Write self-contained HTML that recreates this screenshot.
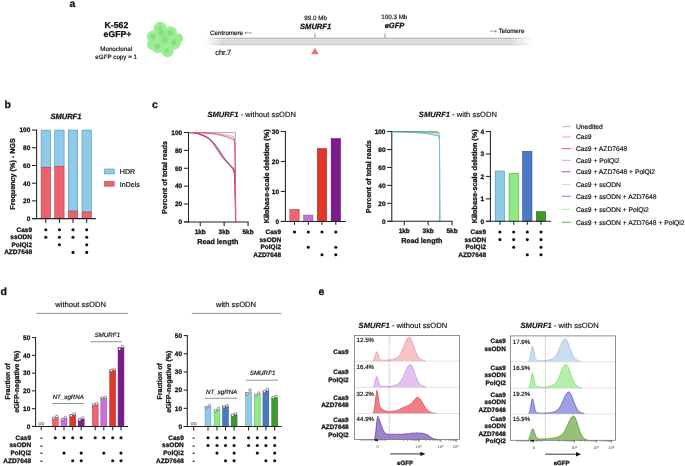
<!DOCTYPE html>
<html lang="en"><head><meta charset="utf-8"><title>Figure</title>
<style>html,body{margin:0;padding:0;background:#fff;}body{width:685px;height:466px;overflow:hidden;}svg{display:block;}</style></head>
<body>
<svg width="685" height="466" viewBox="0 0 685 466" font-family='"Liberation Sans", Arial, Helvetica, sans-serif' text-rendering="geometricPrecision">
<text x="69.40" y="6.70" font-size="10.5" font-weight="bold" font-style="normal" text-anchor="start" fill="#111" stroke="#111" stroke-width="0.26">a</text>
<text x="116.40" y="27.60" font-size="8.7" font-weight="bold" font-style="normal" text-anchor="middle" fill="#111" stroke="#111" stroke-width="0.26">K-562</text>
<text x="117.50" y="37.20" font-size="8.7" font-weight="bold" font-style="normal" text-anchor="middle" fill="#111" stroke="#111" stroke-width="0.26">eGFP+</text>
<text x="116.20" y="51.20" font-size="6.25" font-weight="normal" font-style="normal" text-anchor="middle" fill="#111" stroke="#111" stroke-width="0.18">Monoclonal</text>
<text x="116.20" y="58.60" font-size="6.25" font-weight="normal" font-style="normal" text-anchor="middle" fill="#111" stroke="#111" stroke-width="0.18">eGFP copy = 1</text>
<defs><filter id="bl" x="-10%" y="-10%" width="120%" height="120%"><feGaussianBlur stdDeviation="0.35"/></filter></defs><g filter="url(#bl)">
<circle cx="160.2" cy="28.3" r="6.6" fill="#a2ee9b" stroke="none"/>
<circle cx="152.9" cy="36.6" r="6.0" fill="#a2ee9b" stroke="none"/>
<circle cx="170.4" cy="32.6" r="6.4" fill="#a2ee9b" stroke="none"/>
<circle cx="178.0" cy="38.4" r="5.2" fill="#a2ee9b" stroke="none"/>
<circle cx="152.6" cy="44.4" r="5.6" fill="#a2ee9b" stroke="none"/>
<circle cx="157.8" cy="46.6" r="6.4" fill="#a2ee9b" stroke="none"/>
<circle cx="167.4" cy="51.0" r="6.2" fill="#a2ee9b" stroke="none"/>
<circle cx="174.0" cy="43.0" r="6.6" fill="#a2ee9b" stroke="none"/>
<circle cx="161.8" cy="33.4" r="6.2" fill="#a2ee9b" stroke="none"/>
<circle cx="164.8" cy="39.8" r="6.6" fill="#a2ee9b" stroke="none"/>
<circle cx="160.2" cy="28.3" r="6.3" fill="#92e88c" fill-opacity="0.4" stroke="#b0f2a8" stroke-opacity="0.8" stroke-width="0.5"/>
<circle cx="152.9" cy="36.6" r="5.7" fill="#92e88c" fill-opacity="0.4" stroke="#b0f2a8" stroke-opacity="0.8" stroke-width="0.5"/>
<circle cx="170.4" cy="32.6" r="6.1000000000000005" fill="#92e88c" fill-opacity="0.4" stroke="#b0f2a8" stroke-opacity="0.8" stroke-width="0.5"/>
<circle cx="178.0" cy="38.4" r="4.9" fill="#92e88c" fill-opacity="0.4" stroke="#b0f2a8" stroke-opacity="0.8" stroke-width="0.5"/>
<circle cx="152.6" cy="44.4" r="5.3" fill="#92e88c" fill-opacity="0.4" stroke="#b0f2a8" stroke-opacity="0.8" stroke-width="0.5"/>
<circle cx="157.8" cy="46.6" r="6.1000000000000005" fill="#92e88c" fill-opacity="0.4" stroke="#b0f2a8" stroke-opacity="0.8" stroke-width="0.5"/>
<circle cx="167.4" cy="51.0" r="5.9" fill="#92e88c" fill-opacity="0.4" stroke="#b0f2a8" stroke-opacity="0.8" stroke-width="0.5"/>
<circle cx="174.0" cy="43.0" r="6.3" fill="#92e88c" fill-opacity="0.4" stroke="#b0f2a8" stroke-opacity="0.8" stroke-width="0.5"/>
<circle cx="161.8" cy="33.4" r="5.9" fill="#92e88c" fill-opacity="0.4" stroke="#b0f2a8" stroke-opacity="0.8" stroke-width="0.5"/>
<circle cx="164.8" cy="39.8" r="6.3" fill="#92e88c" fill-opacity="0.4" stroke="#b0f2a8" stroke-opacity="0.8" stroke-width="0.5"/>
<circle cx="152.8" cy="36.7" r="2.6" fill="#74d06e" fill-opacity="0.55"/>
<circle cx="161.7" cy="33.0" r="2.7" fill="#74d06e" fill-opacity="0.55"/>
<circle cx="170.2" cy="33.0" r="2.7" fill="#74d06e" fill-opacity="0.55"/>
<circle cx="164.7" cy="39.8" r="2.9" fill="#74d06e" fill-opacity="0.55"/>
<circle cx="173.8" cy="42.4" r="2.7" fill="#74d06e" fill-opacity="0.55"/>
<circle cx="157.6" cy="46.3" r="2.7" fill="#74d06e" fill-opacity="0.55"/>
<circle cx="160.0" cy="28.0" r="2.2" fill="#74d06e" fill-opacity="0.55"/>
<circle cx="167.0" cy="50.6" r="2.3" fill="#74d06e" fill-opacity="0.55"/>
</g>
<defs><linearGradient id="barh" x1="0" x2="1" y1="0" y2="0"><stop offset="0" stop-color="#fff" stop-opacity="1"/><stop offset="0.05" stop-color="#fff" stop-opacity="0"/><stop offset="0.93" stop-color="#fff" stop-opacity="0"/><stop offset="1" stop-color="#fff" stop-opacity="1"/></linearGradient><linearGradient id="barv" x1="0" x2="0" y1="0" y2="1"><stop offset="0" stop-color="#a6a6a6"/><stop offset="0.11" stop-color="#b4b4b4"/><stop offset="0.16" stop-color="#d6d6d6"/><stop offset="0.8" stop-color="#dedede"/><stop offset="0.86" stop-color="#cdcdcd"/><stop offset="1" stop-color="#d4d4d4"/></linearGradient></defs>
<rect x="206.00" y="38.40" width="326.00" height="6.60" fill="#dcdcdc" stroke="none" stroke-width="0.5"/>
<line x1="206.00" y1="38.25" x2="532.00" y2="38.25" stroke="#a0a0a0" stroke-width="0.9"/>
<line x1="206.00" y1="39.50" x2="532.00" y2="39.50" stroke="#e4e4e4" stroke-width="0.9"/>
<line x1="206.00" y1="44.75" x2="532.00" y2="44.75" stroke="#c2c2c2" stroke-width="0.8"/>
<rect x="205.50" y="36.80" width="327.00" height="8.90" fill="url(#barh)" stroke="none" stroke-width="0.5"/>
<text x="210.10" y="35.00" font-size="6.25" font-weight="normal" font-style="normal" text-anchor="start" fill="#111" stroke="#111" stroke-width="0.18">Centromere</text>
<line x1="252.00" y1="32.90" x2="245.00" y2="32.90" stroke="#333" stroke-width="0.45"/>
<path d="M246.50 31.77 L245.00 32.90 L246.50 34.02" fill="none" stroke="#333" stroke-width="0.45"/>
<text x="215.20" y="54.50" font-size="7.4" font-weight="normal" font-style="normal" text-anchor="start" fill="#111" stroke="#111" stroke-width="0.18">chr.7</text>
<text x="315.60" y="19.80" font-size="6.25" font-weight="normal" font-style="normal" text-anchor="middle" fill="#111" stroke="#111" stroke-width="0.18">99.0 Mb</text>
<text x="315.60" y="28.60" font-size="7.55" font-weight="bold" font-style="italic" text-anchor="middle" fill="#111" stroke="#111" stroke-width="0.26">SMURF1</text>
<line x1="314.90" y1="33.30" x2="314.90" y2="37.90" stroke="#444" stroke-width="0.55"/>
<path d="M314.9 47.8 L318.7 54.3 L311.1 54.3 Z" fill="#e9737c"/>
<text x="394.30" y="18.70" font-size="6.25" font-weight="normal" font-style="normal" text-anchor="middle" fill="#111" stroke="#111" stroke-width="0.18">100.3 Mb</text>
<text x="394.50" y="28.40" font-size="7.55" font-weight="bold" font-style="italic" text-anchor="middle" fill="#111" stroke="#111" stroke-width="0.26">eGFP</text>
<line x1="385.00" y1="33.30" x2="385.00" y2="37.90" stroke="#444" stroke-width="0.55"/>
<line x1="490.00" y1="31.20" x2="496.40" y2="31.20" stroke="#333" stroke-width="0.45"/>
<path d="M494.90 30.07 L496.40 31.20 L494.90 32.33" fill="none" stroke="#333" stroke-width="0.45"/>
<text x="498.70" y="33.00" font-size="6.25" font-weight="normal" font-style="normal" text-anchor="start" fill="#111" stroke="#111" stroke-width="0.18">Telomere</text>
<text x="4.60" y="108.00" font-size="10.5" font-weight="bold" font-style="normal" text-anchor="start" fill="#111" stroke="#111" stroke-width="0.26">b</text>
<text x="65.90" y="119.30" font-size="7.55" font-weight="bold" font-style="italic" text-anchor="middle" fill="#111" stroke="#111" stroke-width="0.26">SMURF1</text>
<rect x="41.10" y="130.10" width="9.40" height="37.17" fill="#8fcbe8" stroke="#4f8db2" stroke-width="0.6"/>
<rect x="41.10" y="167.27" width="9.40" height="51.33" fill="#ea636c" stroke="#b8424e" stroke-width="0.6"/>
<rect x="54.70" y="130.10" width="9.40" height="36.29" fill="#8fcbe8" stroke="#4f8db2" stroke-width="0.6"/>
<rect x="54.70" y="166.38" width="9.40" height="52.22" fill="#ea636c" stroke="#b8424e" stroke-width="0.6"/>
<rect x="68.30" y="130.10" width="9.40" height="80.98" fill="#8fcbe8" stroke="#4f8db2" stroke-width="0.6"/>
<rect x="68.30" y="211.08" width="9.40" height="7.52" fill="#ea636c" stroke="#b8424e" stroke-width="0.6"/>
<rect x="82.00" y="130.10" width="9.40" height="81.86" fill="#8fcbe8" stroke="#4f8db2" stroke-width="0.6"/>
<rect x="82.00" y="211.96" width="9.40" height="6.64" fill="#ea636c" stroke="#b8424e" stroke-width="0.6"/>
<line x1="36.60" y1="129.57" x2="36.60" y2="219.12" stroke="#222" stroke-width="1.05"/>
<line x1="32.00" y1="218.60" x2="36.60" y2="218.60" stroke="#222" stroke-width="1.05"/>
<text x="30.30" y="220.95" font-size="6.5" font-weight="bold" font-style="normal" text-anchor="end" fill="#111" stroke="#111" stroke-width="0.26">0</text>
<line x1="32.00" y1="200.90" x2="36.60" y2="200.90" stroke="#222" stroke-width="1.05"/>
<text x="30.30" y="203.25" font-size="6.5" font-weight="bold" font-style="normal" text-anchor="end" fill="#111" stroke="#111" stroke-width="0.26">20</text>
<line x1="32.00" y1="183.20" x2="36.60" y2="183.20" stroke="#222" stroke-width="1.05"/>
<text x="30.30" y="185.55" font-size="6.5" font-weight="bold" font-style="normal" text-anchor="end" fill="#111" stroke="#111" stroke-width="0.26">40</text>
<line x1="32.00" y1="165.50" x2="36.60" y2="165.50" stroke="#222" stroke-width="1.05"/>
<text x="30.30" y="167.85" font-size="6.5" font-weight="bold" font-style="normal" text-anchor="end" fill="#111" stroke="#111" stroke-width="0.26">60</text>
<line x1="32.00" y1="147.80" x2="36.60" y2="147.80" stroke="#222" stroke-width="1.05"/>
<text x="30.30" y="150.15" font-size="6.5" font-weight="bold" font-style="normal" text-anchor="end" fill="#111" stroke="#111" stroke-width="0.26">80</text>
<line x1="32.00" y1="130.10" x2="36.60" y2="130.10" stroke="#222" stroke-width="1.05"/>
<text x="30.30" y="132.45" font-size="6.5" font-weight="bold" font-style="normal" text-anchor="end" fill="#111" stroke="#111" stroke-width="0.26">100</text>
<line x1="32.30" y1="218.60" x2="95.80" y2="218.60" stroke="#222" stroke-width="1.05"/>
<line x1="45.80" y1="218.60" x2="45.80" y2="222.90" stroke="#222" stroke-width="1.05"/>
<line x1="59.40" y1="218.60" x2="59.40" y2="222.90" stroke="#222" stroke-width="1.05"/>
<line x1="73.00" y1="218.60" x2="73.00" y2="222.90" stroke="#222" stroke-width="1.05"/>
<line x1="86.70" y1="218.60" x2="86.70" y2="222.90" stroke="#222" stroke-width="1.05"/>
<text x="14.70" y="174.00" font-size="7.2" font-weight="bold" font-style="normal" text-anchor="middle" fill="#111" transform="rotate(-90 14.70 174.00)" stroke="#111" stroke-width="0.26">Frequency (%) - NGS</text>
<text x="32.00" y="231.70" font-size="6.5" font-weight="bold" font-style="normal" text-anchor="end" fill="#111" stroke="#111" stroke-width="0.26">Cas9</text>
<text x="32.00" y="239.20" font-size="6.5" font-weight="bold" font-style="normal" text-anchor="end" fill="#111" stroke="#111" stroke-width="0.26">ssODN</text>
<text x="32.00" y="246.70" font-size="6.5" font-weight="bold" font-style="normal" text-anchor="end" fill="#111" stroke="#111" stroke-width="0.26">PolQi2</text>
<text x="32.00" y="254.30" font-size="6.5" font-weight="bold" font-style="normal" text-anchor="end" fill="#111" stroke="#111" stroke-width="0.26">AZD7648</text>
<circle cx="45.80" cy="229.80" r="1.55" fill="#111" stroke="none" stroke-width="0.4"/>
<circle cx="59.40" cy="229.80" r="1.55" fill="#111" stroke="none" stroke-width="0.4"/>
<circle cx="73.00" cy="229.80" r="1.55" fill="#111" stroke="none" stroke-width="0.4"/>
<circle cx="86.70" cy="229.80" r="1.55" fill="#111" stroke="none" stroke-width="0.4"/>
<circle cx="45.80" cy="237.30" r="1.55" fill="#111" stroke="none" stroke-width="0.4"/>
<circle cx="59.40" cy="237.30" r="1.55" fill="#111" stroke="none" stroke-width="0.4"/>
<circle cx="73.00" cy="237.30" r="1.55" fill="#111" stroke="none" stroke-width="0.4"/>
<circle cx="86.70" cy="237.30" r="1.55" fill="#111" stroke="none" stroke-width="0.4"/>
<circle cx="59.40" cy="244.80" r="1.55" fill="#111" stroke="none" stroke-width="0.4"/>
<circle cx="86.70" cy="244.80" r="1.55" fill="#111" stroke="none" stroke-width="0.4"/>
<circle cx="73.00" cy="252.40" r="1.55" fill="#111" stroke="none" stroke-width="0.4"/>
<circle cx="86.70" cy="252.40" r="1.55" fill="#111" stroke="none" stroke-width="0.4"/>
<rect x="104.30" y="169.00" width="10.00" height="5.00" fill="#8fcbe8" stroke="#4f8db2" stroke-width="0.5"/>
<rect x="104.30" y="181.20" width="10.00" height="5.00" fill="#ea636c" stroke="#b8424e" stroke-width="0.5"/>
<text x="119.80" y="174.00" font-size="7.1" font-weight="normal" font-style="normal" text-anchor="start" fill="#111" stroke="#111" stroke-width="0.18">HDR</text>
<text x="119.80" y="186.50" font-size="7.1" font-weight="normal" font-style="normal" text-anchor="start" fill="#111" stroke="#111" stroke-width="0.18">InDels</text>
<text x="152.10" y="108.30" font-size="10.5" font-weight="bold" font-style="normal" text-anchor="start" fill="#111" stroke="#111" stroke-width="0.26">c</text>
<text x="251.7" y="117.3" font-size="7.6" text-anchor="middle" stroke="#111" stroke-width="0.16" fill="#111"><tspan font-weight="bold" font-style="italic">SMURF1</tspan> - without ssODN</text>
<text x="457.9" y="117.3" font-size="7.6" text-anchor="middle" stroke="#111" stroke-width="0.16" fill="#111"><tspan font-weight="bold" font-style="italic">SMURF1</tspan> - with ssODN</text>
<path d="M188.30 132.50 L234.91 132.50 L235.38 132.50 L235.50 221.90" fill="none" stroke="#8c8c9c" stroke-width="0.7" stroke-linejoin="round"/>
<path d="M188.30 132.50 L188.70 132.53 L189.20 132.56 L189.78 132.59 L190.42 132.62 L191.13 132.66 L191.89 132.70 L192.67 132.76 L193.48 132.84 L194.29 132.94 L195.10 133.06 L195.90 133.21 L196.67 133.39 L197.43 133.61 L198.24 133.87 L199.07 134.15 L199.92 134.46 L200.78 134.79 L201.63 135.13 L202.48 135.49 L203.30 135.86 L204.10 136.23 L204.86 136.60 L205.57 136.97 L206.23 137.33 L206.82 137.68 L207.36 138.02 L207.86 138.35 L208.33 138.69 L208.76 139.03 L209.18 139.38 L209.57 139.74 L209.96 140.12 L210.36 140.52 L210.75 140.94 L211.17 141.40 L211.60 141.89 L212.05 142.42 L212.51 143.00 L212.97 143.61 L213.44 144.26 L213.90 144.93 L214.37 145.61 L214.82 146.29 L215.28 146.97 L215.72 147.64 L216.15 148.29 L216.57 148.91 L216.98 149.49 L217.37 150.04 L217.75 150.57 L218.12 151.09 L218.48 151.59 L218.84 152.08 L219.18 152.56 L219.52 153.03 L219.86 153.49 L220.19 153.95 L220.51 154.40 L220.84 154.85 L221.16 155.30 L221.47 155.73 L221.76 156.14 L222.03 156.54 L222.29 156.92 L222.55 157.30 L222.81 157.67 L223.07 158.05 L223.35 158.44 L223.66 158.85 L223.98 159.28 L224.35 159.73 L224.75 160.21 L225.20 160.74 L225.72 161.32 L226.27 161.94 L226.86 162.58 L227.47 163.24 L228.09 163.90 L228.71 164.56 L229.31 165.20 L229.88 165.81 L230.42 166.38 L230.90 166.90 L231.32 167.37 L231.69 167.78 L232.02 168.16 L232.32 168.50 L232.59 168.82 L232.83 169.11 L233.05 169.38 L233.24 169.62 L233.41 169.83 L233.57 170.03 L233.71 170.20 L233.83 170.36 L233.95 170.50 L234.31 172.73 L234.79 176.75 L235.02 184.80 L235.38 203.91 L235.50 221.90" fill="none" stroke="#7d1d8d" stroke-width="0.7" stroke-linejoin="round"/>
<path d="M188.30 132.50 L188.70 132.53 L189.20 132.54 L189.78 132.56 L190.42 132.58 L191.13 132.60 L191.89 132.63 L192.67 132.68 L193.48 132.74 L194.29 132.82 L195.10 132.92 L195.90 133.05 L196.67 133.22 L197.43 133.41 L198.24 133.64 L199.07 133.89 L199.92 134.17 L200.78 134.47 L201.63 134.79 L202.48 135.11 L203.30 135.45 L204.10 135.79 L204.86 136.13 L205.57 136.46 L206.23 136.79 L206.82 137.11 L207.36 137.42 L207.86 137.73 L208.33 138.04 L208.76 138.35 L209.18 138.67 L209.57 139.00 L209.96 139.35 L210.36 139.72 L210.75 140.11 L211.17 140.54 L211.60 140.99 L212.05 141.48 L212.51 142.01 L212.97 142.56 L213.44 143.14 L213.90 143.74 L214.37 144.36 L214.82 144.98 L215.28 145.62 L215.72 146.26 L216.15 146.89 L216.57 147.52 L216.98 148.15 L217.37 148.78 L217.75 149.43 L218.12 150.11 L218.48 150.79 L218.84 151.48 L219.18 152.17 L219.52 152.84 L219.86 153.49 L220.19 154.12 L220.51 154.71 L220.84 155.25 L221.16 155.74 L221.47 156.17 L221.76 156.53 L222.03 156.84 L222.29 157.10 L222.55 157.34 L222.81 157.56 L223.07 157.78 L223.35 158.01 L223.66 158.27 L223.98 158.56 L224.35 158.91 L224.75 159.32 L225.20 159.81 L225.72 160.36 L226.27 160.97 L226.86 161.62 L227.47 162.30 L228.09 162.98 L228.71 163.66 L229.31 164.32 L229.88 164.95 L230.42 165.52 L230.90 166.04 L231.32 166.47 L231.69 166.84 L232.02 167.15 L232.32 167.43 L232.59 167.66 L232.83 167.86 L233.05 168.04 L233.24 168.18 L233.41 168.31 L233.57 168.42 L233.71 168.52 L233.83 168.61 L233.95 168.71 L234.31 170.94 L234.79 174.97 L235.02 183.01 L235.38 203.28 L235.50 221.90" fill="none" stroke="#5a48c0" stroke-width="0.7" stroke-linejoin="round"/>
<path d="M188.30 132.50 L188.70 132.53 L189.20 132.55 L189.78 132.58 L190.42 132.60 L191.13 132.63 L191.89 132.67 L192.67 132.73 L193.48 132.79 L194.29 132.88 L195.10 133.00 L195.90 133.13 L196.67 133.30 L197.43 133.51 L198.24 133.75 L199.07 134.02 L199.92 134.31 L200.78 134.62 L201.63 134.95 L202.48 135.29 L203.30 135.64 L204.10 135.98 L204.86 136.32 L205.57 136.65 L206.23 136.97 L206.82 137.27 L207.36 137.56 L207.86 137.84 L208.33 138.11 L208.76 138.39 L209.18 138.67 L209.57 138.96 L209.96 139.26 L210.36 139.59 L210.75 139.94 L211.17 140.31 L211.60 140.72 L212.05 141.17 L212.51 141.66 L212.97 142.18 L213.44 142.72 L213.90 143.28 L214.37 143.86 L214.82 144.44 L215.28 145.03 L215.72 145.60 L216.15 146.17 L216.57 146.72 L216.98 147.25 L217.37 147.76 L217.75 148.26 L218.12 148.75 L218.48 149.24 L218.84 149.72 L219.18 150.20 L219.52 150.68 L219.86 151.15 L220.19 151.63 L220.51 152.10 L220.84 152.58 L221.16 153.06 L221.47 153.54 L221.76 154.00 L222.03 154.46 L222.29 154.92 L222.55 155.37 L222.81 155.83 L223.07 156.29 L223.35 156.77 L223.66 157.26 L223.98 157.78 L224.35 158.31 L224.75 158.87 L225.20 159.48 L225.72 160.12 L226.27 160.80 L226.86 161.51 L227.47 162.23 L228.09 162.95 L228.71 163.68 L229.31 164.39 L229.88 165.08 L230.42 165.73 L230.90 166.35 L231.32 166.92 L231.69 167.45 L232.02 167.98 L232.32 168.48 L232.59 168.97 L232.83 169.44 L233.05 169.88 L233.24 170.29 L233.41 170.68 L233.57 171.03 L233.71 171.34 L233.83 171.61 L233.95 171.84 L234.43 174.07 L234.91 178.09 L235.14 186.14 L235.50 204.38 L235.62 221.90" fill="none" stroke="#c02050" stroke-width="0.7" stroke-linejoin="round"/>
<path d="M188.30 132.50 L188.70 132.53 L189.20 132.55 L189.78 132.57 L190.42 132.59 L191.13 132.61 L191.89 132.65 L192.67 132.69 L193.48 132.75 L194.29 132.83 L195.10 132.93 L195.90 133.06 L196.67 133.22 L197.43 133.40 L198.24 133.62 L199.07 133.87 L199.92 134.14 L200.78 134.42 L201.63 134.72 L202.48 135.04 L203.30 135.35 L204.10 135.68 L204.86 135.99 L205.57 136.31 L206.23 136.61 L206.82 136.90 L207.36 137.19 L207.86 137.46 L208.33 137.74 L208.76 138.02 L209.18 138.30 L209.57 138.59 L209.96 138.90 L210.36 139.23 L210.75 139.58 L211.17 139.96 L211.60 140.37 L212.05 140.81 L212.51 141.28 L212.97 141.78 L213.44 142.30 L213.90 142.85 L214.37 143.40 L214.82 143.97 L215.28 144.54 L215.72 145.11 L216.15 145.68 L216.57 146.25 L216.98 146.80 L217.37 147.36 L217.75 147.93 L218.12 148.50 L218.48 149.09 L218.84 149.67 L219.18 150.25 L219.52 150.83 L219.86 151.40 L220.19 151.95 L220.51 152.49 L220.84 153.01 L221.16 153.51 L221.47 153.97 L221.76 154.40 L222.03 154.80 L222.29 155.18 L222.55 155.55 L222.81 155.91 L223.07 156.28 L223.35 156.65 L223.66 157.05 L223.98 157.47 L224.35 157.93 L224.75 158.43 L225.20 158.98 L225.72 159.60 L226.27 160.26 L226.86 160.96 L227.47 161.67 L228.09 162.39 L228.71 163.10 L229.31 163.79 L229.88 164.44 L230.42 165.04 L230.90 165.57 L231.32 166.03 L231.69 166.41 L232.02 166.73 L232.32 167.01 L232.59 167.25 L232.83 167.45 L233.05 167.62 L233.24 167.76 L233.41 167.88 L233.57 167.98 L233.71 168.08 L233.83 168.17 L233.95 168.26 L234.43 170.50 L234.91 174.52 L235.14 182.56 L235.50 203.13 L235.62 221.90" fill="none" stroke="#e2352b" stroke-width="0.7" stroke-linejoin="round"/>
<path d="M188.30 132.50 L189.19 132.52 L190.32 132.53 L191.66 132.55 L193.17 132.57 L194.80 132.60 L196.52 132.62 L198.27 132.65 L200.03 132.69 L201.74 132.72 L203.38 132.76 L204.88 132.81 L206.23 132.86 L207.44 132.91 L208.60 132.97 L209.72 133.04 L210.78 133.10 L211.81 133.17 L212.80 133.25 L213.75 133.33 L214.68 133.41 L215.58 133.49 L216.46 133.58 L217.32 133.66 L218.18 133.75 L219.00 133.84 L219.79 133.93 L220.54 134.03 L221.26 134.13 L221.96 134.23 L222.64 134.33 L223.30 134.43 L223.96 134.54 L224.60 134.65 L225.24 134.76 L225.89 134.88 L226.54 135.00 L227.21 135.13 L227.92 135.28 L228.63 135.44 L229.35 135.60 L230.07 135.77 L230.77 135.93 L231.44 136.09 L232.06 136.24 L232.64 136.39 L233.15 136.51 L233.59 136.62 L233.95 136.70 L234.31 139.20 L234.79 143.23 L235.02 151.27 L235.38 192.17 L235.50 221.90" fill="none" stroke="#c670da" stroke-width="0.7" stroke-linejoin="round"/>
<path d="M188.30 132.50 L189.19 132.53 L190.32 132.57 L191.66 132.61 L193.17 132.65 L194.80 132.70 L196.52 132.76 L198.27 132.82 L200.03 132.88 L201.74 132.96 L203.38 133.04 L204.88 133.12 L206.23 133.22 L207.44 133.32 L208.60 133.43 L209.72 133.54 L210.78 133.67 L211.81 133.80 L212.80 133.93 L213.75 134.07 L214.68 134.22 L215.58 134.36 L216.46 134.51 L217.32 134.67 L218.18 134.82 L219.00 134.98 L219.79 135.14 L220.54 135.30 L221.26 135.46 L221.96 135.63 L222.64 135.80 L223.30 135.98 L223.96 136.16 L224.60 136.35 L225.24 136.55 L225.89 136.76 L226.54 136.97 L227.21 137.21 L227.92 137.47 L228.63 137.76 L229.35 138.06 L230.07 138.36 L230.77 138.67 L231.44 138.97 L232.06 139.25 L232.64 139.51 L233.15 139.75 L233.59 139.94 L233.95 140.10 L234.43 142.78 L234.91 146.80 L235.14 154.85 L235.50 193.43 L235.62 221.90" fill="none" stroke="#e8404a" stroke-width="0.7" stroke-linejoin="round"/>
<path d="M188.30 132.50 L189.19 132.52 L190.32 132.55 L191.66 132.58 L193.17 132.61 L194.80 132.64 L196.52 132.68 L198.27 132.73 L200.03 132.78 L201.74 132.83 L203.38 132.89 L204.88 132.96 L206.23 133.04 L207.44 133.12 L208.60 133.21 L209.72 133.30 L210.78 133.40 L211.81 133.51 L212.80 133.62 L213.75 133.74 L214.68 133.86 L215.58 133.99 L216.46 134.11 L217.32 134.24 L218.18 134.38 L219.00 134.51 L219.79 134.65 L220.54 134.79 L221.26 134.94 L221.96 135.09 L222.64 135.24 L223.30 135.40 L223.96 135.56 L224.60 135.73 L225.24 135.90 L225.89 136.07 L226.54 136.25 L227.21 136.45 L227.92 136.66 L228.63 136.90 L229.35 137.14 L230.07 137.38 L230.77 137.62 L231.44 137.86 L232.06 138.09 L232.64 138.29 L233.15 138.48 L233.59 138.64 L233.95 138.76 L234.55 140.99 L235.02 145.02 L235.26 153.06 L235.62 192.80 L235.74 221.90" fill="none" stroke="#ec6570" stroke-width="0.7" stroke-linejoin="round"/>
<line x1="188.50" y1="131.97" x2="188.50" y2="222.43" stroke="#222" stroke-width="1.05"/>
<line x1="183.90" y1="221.90" x2="188.50" y2="221.90" stroke="#222" stroke-width="1.05"/>
<text x="182.20" y="224.25" font-size="6.5" font-weight="bold" font-style="normal" text-anchor="end" fill="#111" stroke="#111" stroke-width="0.26">0</text>
<line x1="183.90" y1="204.02" x2="188.50" y2="204.02" stroke="#222" stroke-width="1.05"/>
<text x="182.20" y="206.37" font-size="6.5" font-weight="bold" font-style="normal" text-anchor="end" fill="#111" stroke="#111" stroke-width="0.26">20</text>
<line x1="183.90" y1="186.14" x2="188.50" y2="186.14" stroke="#222" stroke-width="1.05"/>
<text x="182.20" y="188.49" font-size="6.5" font-weight="bold" font-style="normal" text-anchor="end" fill="#111" stroke="#111" stroke-width="0.26">40</text>
<line x1="183.90" y1="168.26" x2="188.50" y2="168.26" stroke="#222" stroke-width="1.05"/>
<text x="182.20" y="170.61" font-size="6.5" font-weight="bold" font-style="normal" text-anchor="end" fill="#111" stroke="#111" stroke-width="0.26">60</text>
<line x1="183.90" y1="150.38" x2="188.50" y2="150.38" stroke="#222" stroke-width="1.05"/>
<text x="182.20" y="152.73" font-size="6.5" font-weight="bold" font-style="normal" text-anchor="end" fill="#111" stroke="#111" stroke-width="0.26">80</text>
<line x1="183.90" y1="132.50" x2="188.50" y2="132.50" stroke="#222" stroke-width="1.05"/>
<text x="182.20" y="134.85" font-size="6.5" font-weight="bold" font-style="normal" text-anchor="end" fill="#111" stroke="#111" stroke-width="0.26">100</text>
<line x1="184.20" y1="221.90" x2="248.58" y2="221.90" stroke="#222" stroke-width="1.05"/>
<line x1="200.25" y1="221.90" x2="200.25" y2="225.90" stroke="#222" stroke-width="1.05"/>
<text x="200.25" y="233.60" font-size="6.5" font-weight="bold" font-style="normal" text-anchor="middle" fill="#111" stroke="#111" stroke-width="0.26">1kb</text>
<line x1="224.15" y1="221.90" x2="224.15" y2="225.90" stroke="#222" stroke-width="1.05"/>
<text x="224.15" y="233.60" font-size="6.5" font-weight="bold" font-style="normal" text-anchor="middle" fill="#111" stroke="#111" stroke-width="0.26">3kb</text>
<line x1="248.05" y1="221.90" x2="248.05" y2="225.90" stroke="#222" stroke-width="1.05"/>
<text x="248.05" y="233.60" font-size="6.5" font-weight="bold" font-style="normal" text-anchor="middle" fill="#111" stroke="#111" stroke-width="0.26">5kb</text>
<text x="217.88" y="244.00" font-size="7.2" font-weight="bold" font-style="normal" text-anchor="middle" fill="#111" stroke="#111" stroke-width="0.26">Read length</text>
<text x="166.80" y="177.50" font-size="7.15" font-weight="bold" font-style="normal" text-anchor="middle" fill="#111" transform="rotate(-90 166.80 177.50)" stroke="#111" stroke-width="0.26">Percent of total reads</text>
<path d="M392.30 131.60 L393.70 131.61 L395.58 131.63 L397.81 131.65 L400.29 131.68 L402.89 131.70 L405.49 131.73 L407.98 131.76 L410.23 131.78 L412.30 131.80 L414.34 131.82 L416.35 131.84 L418.32 131.86 L420.25 131.88 L422.13 131.90 L423.97 131.93 L425.76 131.96 L427.57 132.00 L429.43 132.04 L431.28 132.10 L433.06 132.15 L434.73 132.20 L436.22 132.25 L437.47 132.29 L438.43 132.32 L439.14 133.84 L439.50 137.88 L439.74 221.30" fill="none" stroke="#3c9a2a" stroke-width="0.7" stroke-linejoin="round"/>
<path d="M392.30 131.60 L393.70 131.63 L395.58 131.66 L397.81 131.70 L400.29 131.75 L402.89 131.80 L405.49 131.85 L407.98 131.90 L410.23 131.96 L412.30 132.02 L414.34 132.07 L416.35 132.13 L418.32 132.19 L420.25 132.26 L422.13 132.33 L423.97 132.41 L425.76 132.50 L427.57 132.60 L429.43 132.72 L431.28 132.85 L433.06 132.98 L434.73 133.11 L436.22 133.22 L437.47 133.32 L438.43 133.39 L439.14 134.74 L439.50 138.78 L439.74 221.30" fill="none" stroke="#8fea86" stroke-width="0.7" stroke-linejoin="round"/>
<path d="M392.30 131.60 L393.70 131.64 L395.58 131.70 L397.81 131.76 L400.29 131.83 L402.89 131.91 L405.49 132.01 L407.98 132.11 L410.23 132.23 L412.30 132.36 L414.34 132.49 L416.35 132.64 L418.32 132.80 L420.25 132.97 L422.13 133.16 L423.97 133.36 L425.76 133.57 L427.57 133.83 L429.43 134.12 L431.28 134.45 L433.06 134.78 L434.73 135.10 L436.22 135.39 L437.47 135.64 L438.43 135.82 L439.14 137.43 L439.50 141.47 L439.74 221.30" fill="none" stroke="#4b78c5" stroke-width="0.7" stroke-linejoin="round"/>
<path d="M392.30 131.60 L393.70 131.63 L395.58 131.67 L397.81 131.71 L400.29 131.76 L402.89 131.81 L405.49 131.88 L407.98 131.96 L410.23 132.05 L412.30 132.15 L414.34 132.26 L416.35 132.37 L418.32 132.50 L420.25 132.64 L422.13 132.79 L423.97 132.95 L425.76 133.12 L427.57 133.33 L429.43 133.56 L431.28 133.82 L433.06 134.09 L434.73 134.35 L436.22 134.58 L437.47 134.78 L438.43 134.92 L439.14 136.53 L439.50 140.57 L439.74 221.30" fill="none" stroke="#8dcbe6" stroke-width="0.7" stroke-linejoin="round"/>
<path d="M392.30 131.60 L393.70 131.61 L395.58 131.61 L397.81 131.62 L400.29 131.63 L402.89 131.65 L405.49 131.66 L407.98 131.67 L410.23 131.69 L412.30 131.71 L414.34 131.73 L416.35 131.75 L418.32 131.77 L420.25 131.79 L422.13 131.82 L423.97 131.84 L425.76 131.87 L427.57 131.90 L429.43 131.94 L431.28 131.98 L433.06 132.01 L434.73 132.05 L436.22 132.09 L437.47 132.12 L438.43 132.14" fill="none" stroke="#2f8a2a" stroke-width="0.7" stroke-linejoin="round"/>
<line x1="391.80" y1="131.07" x2="391.80" y2="221.83" stroke="#222" stroke-width="1.05"/>
<line x1="387.20" y1="221.30" x2="391.80" y2="221.30" stroke="#222" stroke-width="1.05"/>
<text x="385.50" y="223.65" font-size="6.5" font-weight="bold" font-style="normal" text-anchor="end" fill="#111" stroke="#111" stroke-width="0.26">0</text>
<line x1="387.20" y1="203.36" x2="391.80" y2="203.36" stroke="#222" stroke-width="1.05"/>
<text x="385.50" y="205.71" font-size="6.5" font-weight="bold" font-style="normal" text-anchor="end" fill="#111" stroke="#111" stroke-width="0.26">20</text>
<line x1="387.20" y1="185.42" x2="391.80" y2="185.42" stroke="#222" stroke-width="1.05"/>
<text x="385.50" y="187.77" font-size="6.5" font-weight="bold" font-style="normal" text-anchor="end" fill="#111" stroke="#111" stroke-width="0.26">40</text>
<line x1="387.20" y1="167.48" x2="391.80" y2="167.48" stroke="#222" stroke-width="1.05"/>
<text x="385.50" y="169.83" font-size="6.5" font-weight="bold" font-style="normal" text-anchor="end" fill="#111" stroke="#111" stroke-width="0.26">60</text>
<line x1="387.20" y1="149.54" x2="391.80" y2="149.54" stroke="#222" stroke-width="1.05"/>
<text x="385.50" y="151.89" font-size="6.5" font-weight="bold" font-style="normal" text-anchor="end" fill="#111" stroke="#111" stroke-width="0.26">80</text>
<line x1="387.20" y1="131.60" x2="391.80" y2="131.60" stroke="#222" stroke-width="1.05"/>
<text x="385.50" y="133.95" font-size="6.5" font-weight="bold" font-style="normal" text-anchor="end" fill="#111" stroke="#111" stroke-width="0.26">100</text>
<line x1="387.50" y1="221.30" x2="452.57" y2="221.30" stroke="#222" stroke-width="1.05"/>
<line x1="404.25" y1="221.30" x2="404.25" y2="225.30" stroke="#222" stroke-width="1.05"/>
<text x="404.25" y="233.00" font-size="6.5" font-weight="bold" font-style="normal" text-anchor="middle" fill="#111" stroke="#111" stroke-width="0.26">1kb</text>
<line x1="428.15" y1="221.30" x2="428.15" y2="225.30" stroke="#222" stroke-width="1.05"/>
<text x="428.15" y="233.00" font-size="6.5" font-weight="bold" font-style="normal" text-anchor="middle" fill="#111" stroke="#111" stroke-width="0.26">3kb</text>
<line x1="452.05" y1="221.30" x2="452.05" y2="225.30" stroke="#222" stroke-width="1.05"/>
<text x="452.05" y="233.00" font-size="6.5" font-weight="bold" font-style="normal" text-anchor="middle" fill="#111" stroke="#111" stroke-width="0.26">5kb</text>
<text x="421.88" y="243.40" font-size="7.2" font-weight="bold" font-style="normal" text-anchor="middle" fill="#111" stroke="#111" stroke-width="0.26">Read length</text>
<text x="371.30" y="176.75" font-size="7.15" font-weight="bold" font-style="normal" text-anchor="middle" fill="#111" transform="rotate(-90 371.30 176.75)" stroke="#111" stroke-width="0.26">Percent of total reads</text>
<rect x="289.85" y="209.41" width="9.30" height="11.99" fill="#ec6570" stroke="#c0444f" stroke-width="0.6"/>
<rect x="303.65" y="215.11" width="9.30" height="6.29" fill="#c670da" stroke="#9c4ab4" stroke-width="0.6"/>
<rect x="317.35" y="148.58" width="9.30" height="72.82" fill="#e2352b" stroke="#b0221c" stroke-width="0.6"/>
<rect x="331.15" y="138.69" width="9.30" height="82.71" fill="#7d1d8d" stroke="#581064" stroke-width="0.6"/>
<line x1="285.40" y1="130.97" x2="285.40" y2="221.93" stroke="#222" stroke-width="1.05"/>
<line x1="280.80" y1="221.40" x2="285.40" y2="221.40" stroke="#222" stroke-width="1.05"/>
<text x="279.10" y="223.75" font-size="6.5" font-weight="bold" font-style="normal" text-anchor="end" fill="#111" stroke="#111" stroke-width="0.26">0</text>
<line x1="280.80" y1="191.43" x2="285.40" y2="191.43" stroke="#222" stroke-width="1.05"/>
<text x="279.10" y="193.78" font-size="6.5" font-weight="bold" font-style="normal" text-anchor="end" fill="#111" stroke="#111" stroke-width="0.26">10</text>
<line x1="280.80" y1="161.47" x2="285.40" y2="161.47" stroke="#222" stroke-width="1.05"/>
<text x="279.10" y="163.82" font-size="6.5" font-weight="bold" font-style="normal" text-anchor="end" fill="#111" stroke="#111" stroke-width="0.26">20</text>
<line x1="280.80" y1="131.50" x2="285.40" y2="131.50" stroke="#222" stroke-width="1.05"/>
<text x="279.10" y="133.85" font-size="6.5" font-weight="bold" font-style="normal" text-anchor="end" fill="#111" stroke="#111" stroke-width="0.26">30</text>
<line x1="281.10" y1="221.40" x2="345.80" y2="221.40" stroke="#222" stroke-width="1.05"/>
<line x1="294.50" y1="221.40" x2="294.50" y2="224.80" stroke="#222" stroke-width="1.05"/>
<line x1="308.30" y1="221.40" x2="308.30" y2="224.80" stroke="#222" stroke-width="1.05"/>
<line x1="322.00" y1="221.40" x2="322.00" y2="224.80" stroke="#222" stroke-width="1.05"/>
<line x1="335.80" y1="221.40" x2="335.80" y2="224.80" stroke="#222" stroke-width="1.05"/>
<text x="268.90" y="176.35" font-size="7.25" font-weight="bold" font-style="normal" text-anchor="middle" fill="#111" transform="rotate(-90 268.90 176.35)" stroke="#111" stroke-width="0.26">Kilobase-scale deletion (%)</text>
<text x="281.10" y="233.90" font-size="6.5" font-weight="bold" font-style="normal" text-anchor="end" fill="#111" stroke="#111" stroke-width="0.26">Cas9</text>
<text x="281.10" y="241.50" font-size="6.5" font-weight="bold" font-style="normal" text-anchor="end" fill="#111" stroke="#111" stroke-width="0.26">ssODN</text>
<text x="281.10" y="249.10" font-size="6.5" font-weight="bold" font-style="normal" text-anchor="end" fill="#111" stroke="#111" stroke-width="0.26">PolQi2</text>
<text x="281.10" y="256.70" font-size="6.5" font-weight="bold" font-style="normal" text-anchor="end" fill="#111" stroke="#111" stroke-width="0.26">AZD7648</text>
<circle cx="294.50" cy="232.00" r="1.55" fill="#111" stroke="none" stroke-width="0.4"/>
<circle cx="308.30" cy="232.00" r="1.55" fill="#111" stroke="none" stroke-width="0.4"/>
<circle cx="322.00" cy="232.00" r="1.55" fill="#111" stroke="none" stroke-width="0.4"/>
<circle cx="335.80" cy="232.00" r="1.55" fill="#111" stroke="none" stroke-width="0.4"/>
<circle cx="308.30" cy="247.20" r="1.55" fill="#111" stroke="none" stroke-width="0.4"/>
<circle cx="335.80" cy="247.20" r="1.55" fill="#111" stroke="none" stroke-width="0.4"/>
<circle cx="322.00" cy="254.80" r="1.55" fill="#111" stroke="none" stroke-width="0.4"/>
<circle cx="335.80" cy="254.80" r="1.55" fill="#111" stroke="none" stroke-width="0.4"/>
<rect x="495.25" y="171.01" width="9.30" height="50.29" fill="#8dcbe6" stroke="#4f8db2" stroke-width="0.6"/>
<rect x="509.05" y="173.26" width="9.30" height="48.04" fill="#8fea86" stroke="#4caa46" stroke-width="0.6"/>
<rect x="522.65" y="151.26" width="9.30" height="70.04" fill="#4b78c5" stroke="#2f5494" stroke-width="0.6"/>
<rect x="536.35" y="211.65" width="9.30" height="9.65" fill="#3c9a2a" stroke="#25691a" stroke-width="0.6"/>
<line x1="490.40" y1="130.97" x2="490.40" y2="221.83" stroke="#222" stroke-width="1.05"/>
<line x1="485.80" y1="221.30" x2="490.40" y2="221.30" stroke="#222" stroke-width="1.05"/>
<text x="484.10" y="223.65" font-size="6.5" font-weight="bold" font-style="normal" text-anchor="end" fill="#111" stroke="#111" stroke-width="0.26">0</text>
<line x1="485.80" y1="198.85" x2="490.40" y2="198.85" stroke="#222" stroke-width="1.05"/>
<text x="484.10" y="201.20" font-size="6.5" font-weight="bold" font-style="normal" text-anchor="end" fill="#111" stroke="#111" stroke-width="0.26">1</text>
<line x1="485.80" y1="176.40" x2="490.40" y2="176.40" stroke="#222" stroke-width="1.05"/>
<text x="484.10" y="178.75" font-size="6.5" font-weight="bold" font-style="normal" text-anchor="end" fill="#111" stroke="#111" stroke-width="0.26">2</text>
<line x1="485.80" y1="153.95" x2="490.40" y2="153.95" stroke="#222" stroke-width="1.05"/>
<text x="484.10" y="156.30" font-size="6.5" font-weight="bold" font-style="normal" text-anchor="end" fill="#111" stroke="#111" stroke-width="0.26">3</text>
<line x1="485.80" y1="131.50" x2="490.40" y2="131.50" stroke="#222" stroke-width="1.05"/>
<text x="484.10" y="133.85" font-size="6.5" font-weight="bold" font-style="normal" text-anchor="end" fill="#111" stroke="#111" stroke-width="0.26">4</text>
<line x1="486.10" y1="221.30" x2="551.00" y2="221.30" stroke="#222" stroke-width="1.05"/>
<line x1="499.90" y1="221.30" x2="499.90" y2="224.70" stroke="#222" stroke-width="1.05"/>
<line x1="513.70" y1="221.30" x2="513.70" y2="224.70" stroke="#222" stroke-width="1.05"/>
<line x1="527.30" y1="221.30" x2="527.30" y2="224.70" stroke="#222" stroke-width="1.05"/>
<line x1="541.00" y1="221.30" x2="541.00" y2="224.70" stroke="#222" stroke-width="1.05"/>
<text x="477.00" y="176.30" font-size="7.25" font-weight="bold" font-style="normal" text-anchor="middle" fill="#111" transform="rotate(-90 477.00 176.30)" stroke="#111" stroke-width="0.26">Kilobase-scale deletion (%)</text>
<text x="486.10" y="233.90" font-size="6.5" font-weight="bold" font-style="normal" text-anchor="end" fill="#111" stroke="#111" stroke-width="0.26">Cas9</text>
<text x="486.10" y="241.50" font-size="6.5" font-weight="bold" font-style="normal" text-anchor="end" fill="#111" stroke="#111" stroke-width="0.26">ssODN</text>
<text x="486.10" y="249.10" font-size="6.5" font-weight="bold" font-style="normal" text-anchor="end" fill="#111" stroke="#111" stroke-width="0.26">PolQi2</text>
<text x="486.10" y="256.70" font-size="6.5" font-weight="bold" font-style="normal" text-anchor="end" fill="#111" stroke="#111" stroke-width="0.26">AZD7648</text>
<circle cx="499.90" cy="232.00" r="1.55" fill="#111" stroke="none" stroke-width="0.4"/>
<circle cx="513.70" cy="232.00" r="1.55" fill="#111" stroke="none" stroke-width="0.4"/>
<circle cx="527.30" cy="232.00" r="1.55" fill="#111" stroke="none" stroke-width="0.4"/>
<circle cx="541.00" cy="232.00" r="1.55" fill="#111" stroke="none" stroke-width="0.4"/>
<circle cx="499.90" cy="239.60" r="1.55" fill="#111" stroke="none" stroke-width="0.4"/>
<circle cx="513.70" cy="239.60" r="1.55" fill="#111" stroke="none" stroke-width="0.4"/>
<circle cx="527.30" cy="239.60" r="1.55" fill="#111" stroke="none" stroke-width="0.4"/>
<circle cx="541.00" cy="239.60" r="1.55" fill="#111" stroke="none" stroke-width="0.4"/>
<circle cx="513.70" cy="247.20" r="1.55" fill="#111" stroke="none" stroke-width="0.4"/>
<circle cx="541.00" cy="247.20" r="1.55" fill="#111" stroke="none" stroke-width="0.4"/>
<circle cx="527.30" cy="254.80" r="1.55" fill="#111" stroke="none" stroke-width="0.4"/>
<circle cx="541.00" cy="254.80" r="1.55" fill="#111" stroke="none" stroke-width="0.4"/>
<line x1="561.80" y1="126.60" x2="570.80" y2="126.60" stroke="#9aa6b4" stroke-width="0.8"/>
<text x="575.90" y="129.00" font-size="6.73" font-weight="normal" font-style="normal" text-anchor="start" fill="#111" stroke="#111" stroke-width="0.18">Unedited</text>
<line x1="561.80" y1="137.00" x2="570.80" y2="137.00" stroke="#f08a96" stroke-width="0.8"/>
<text x="575.90" y="139.40" font-size="6.73" font-weight="normal" font-style="normal" text-anchor="start" fill="#111" stroke="#111" stroke-width="0.18">Cas9</text>
<line x1="561.80" y1="148.60" x2="570.80" y2="148.60" stroke="#e2352b" stroke-width="0.8"/>
<text x="575.90" y="151.00" font-size="6.73" font-weight="normal" font-style="normal" text-anchor="start" fill="#111" stroke="#111" stroke-width="0.18">Cas9 + AZD7648</text>
<line x1="561.80" y1="160.30" x2="570.80" y2="160.30" stroke="#cc88dd" stroke-width="0.8"/>
<text x="575.90" y="162.70" font-size="6.73" font-weight="normal" font-style="normal" text-anchor="start" fill="#111" stroke="#111" stroke-width="0.18">Cas9 + PolQi2</text>
<line x1="561.80" y1="171.80" x2="570.80" y2="171.80" stroke="#8b3a9a" stroke-width="0.8"/>
<text x="575.90" y="174.20" font-size="6.73" font-weight="normal" font-style="normal" text-anchor="start" fill="#111" stroke="#111" stroke-width="0.18">Cas9 + AZD7648 + PolQi2</text>
<line x1="561.80" y1="184.60" x2="570.80" y2="184.60" stroke="#a8dce0" stroke-width="0.8"/>
<text x="575.90" y="187.00" font-size="6.73" font-weight="normal" font-style="normal" text-anchor="start" fill="#111" stroke="#111" stroke-width="0.18">Cas9 + ssODN</text>
<line x1="561.80" y1="196.30" x2="570.80" y2="196.30" stroke="#5570c8" stroke-width="0.8"/>
<text x="575.90" y="198.70" font-size="6.73" font-weight="normal" font-style="normal" text-anchor="start" fill="#111" stroke="#111" stroke-width="0.18">Cas9 + ssODN + AZD7648</text>
<line x1="561.80" y1="209.30" x2="570.80" y2="209.30" stroke="#98ec90" stroke-width="0.8"/>
<text x="575.90" y="211.70" font-size="6.73" font-weight="normal" font-style="normal" text-anchor="start" fill="#111" stroke="#111" stroke-width="0.18">Cas9 + ssODN + PolQi2</text>
<line x1="561.80" y1="222.30" x2="570.80" y2="222.30" stroke="#3c9a2a" stroke-width="0.8"/>
<text x="575.90" y="224.70" font-size="6.73" font-weight="normal" font-style="normal" text-anchor="start" fill="#111" stroke="#111" stroke-width="0.18">Cas9 + ssODN + AZD7648 + PolQi2</text>
<text x="0.60" y="294.60" font-size="10.5" font-weight="bold" font-style="normal" text-anchor="start" fill="#111" stroke="#111" stroke-width="0.26">d</text>
<text x="80.60" y="307.40" font-size="7.6" font-weight="normal" font-style="normal" text-anchor="middle" fill="#111" stroke="#111" stroke-width="0.18">without ssODN</text>
<line x1="36.50" y1="313.40" x2="128.00" y2="313.40" stroke="#666" stroke-width="0.7"/>
<rect x="52.35" y="417.52" width="5.90" height="8.88" fill="#ec6570" stroke="#a94850" stroke-width="0.5"/>
<rect x="61.05" y="418.41" width="5.90" height="7.99" fill="#c670da" stroke="#8e509c" stroke-width="0.5"/>
<rect x="69.75" y="414.86" width="5.90" height="11.54" fill="#e2352b" stroke="#a2261e" stroke-width="0.5"/>
<rect x="78.25" y="418.94" width="5.90" height="7.46" fill="#7d1d8d" stroke="#5a1465" stroke-width="0.5"/>
<rect x="92.25" y="404.20" width="5.90" height="22.20" fill="#ec6570" stroke="#a94850" stroke-width="0.5"/>
<rect x="100.85" y="397.63" width="5.90" height="28.77" fill="#c670da" stroke="#8e509c" stroke-width="0.5"/>
<rect x="109.75" y="369.92" width="5.90" height="56.48" fill="#e2352b" stroke="#a2261e" stroke-width="0.5"/>
<rect x="118.05" y="347.72" width="5.90" height="78.68" fill="#7d1d8d" stroke="#5a1465" stroke-width="0.5"/>
<circle cx="39.80" cy="423.74" r="1.3" fill="#fff" stroke="#2a2a2a" stroke-width="0.5"/>
<circle cx="42.80" cy="423.74" r="1.3" fill="#fff" stroke="#2a2a2a" stroke-width="0.5"/>
<circle cx="53.80" cy="418.23" r="1.3" fill="#fff" stroke="#2a2a2a" stroke-width="0.5"/>
<circle cx="56.80" cy="416.45" r="1.3" fill="#fff" stroke="#2a2a2a" stroke-width="0.5"/>
<circle cx="62.50" cy="419.30" r="1.3" fill="#fff" stroke="#2a2a2a" stroke-width="0.5"/>
<circle cx="65.50" cy="417.52" r="1.3" fill="#fff" stroke="#2a2a2a" stroke-width="0.5"/>
<circle cx="71.20" cy="415.74" r="1.3" fill="#fff" stroke="#2a2a2a" stroke-width="0.5"/>
<circle cx="74.20" cy="413.97" r="1.3" fill="#fff" stroke="#2a2a2a" stroke-width="0.5"/>
<circle cx="79.70" cy="419.65" r="1.3" fill="#fff" stroke="#2a2a2a" stroke-width="0.5"/>
<circle cx="82.70" cy="418.05" r="1.3" fill="#fff" stroke="#2a2a2a" stroke-width="0.5"/>
<circle cx="93.70" cy="404.56" r="1.3" fill="#fff" stroke="#2a2a2a" stroke-width="0.5"/>
<circle cx="96.70" cy="403.67" r="1.3" fill="#fff" stroke="#2a2a2a" stroke-width="0.5"/>
<circle cx="102.30" cy="397.98" r="1.3" fill="#fff" stroke="#2a2a2a" stroke-width="0.5"/>
<circle cx="105.30" cy="397.27" r="1.3" fill="#fff" stroke="#2a2a2a" stroke-width="0.5"/>
<circle cx="111.20" cy="370.46" r="1.3" fill="#fff" stroke="#2a2a2a" stroke-width="0.5"/>
<circle cx="114.20" cy="369.39" r="1.3" fill="#fff" stroke="#2a2a2a" stroke-width="0.5"/>
<circle cx="119.50" cy="348.97" r="1.3" fill="#fff" stroke="#2a2a2a" stroke-width="0.5"/>
<circle cx="122.50" cy="346.48" r="1.3" fill="#fff" stroke="#2a2a2a" stroke-width="0.5"/>
<line x1="35.60" y1="337.08" x2="35.60" y2="426.92" stroke="#222" stroke-width="1.05"/>
<line x1="32.00" y1="426.40" x2="35.60" y2="426.40" stroke="#222" stroke-width="1.05"/>
<text x="30.30" y="428.75" font-size="6.5" font-weight="bold" font-style="normal" text-anchor="end" fill="#111" stroke="#111" stroke-width="0.26">0</text>
<line x1="32.00" y1="408.64" x2="35.60" y2="408.64" stroke="#222" stroke-width="1.05"/>
<text x="30.30" y="410.99" font-size="6.5" font-weight="bold" font-style="normal" text-anchor="end" fill="#111" stroke="#111" stroke-width="0.26">10</text>
<line x1="32.00" y1="390.88" x2="35.60" y2="390.88" stroke="#222" stroke-width="1.05"/>
<text x="30.30" y="393.23" font-size="6.5" font-weight="bold" font-style="normal" text-anchor="end" fill="#111" stroke="#111" stroke-width="0.26">20</text>
<line x1="32.00" y1="373.12" x2="35.60" y2="373.12" stroke="#222" stroke-width="1.05"/>
<text x="30.30" y="375.47" font-size="6.5" font-weight="bold" font-style="normal" text-anchor="end" fill="#111" stroke="#111" stroke-width="0.26">30</text>
<line x1="32.00" y1="355.36" x2="35.60" y2="355.36" stroke="#222" stroke-width="1.05"/>
<text x="30.30" y="357.71" font-size="6.5" font-weight="bold" font-style="normal" text-anchor="end" fill="#111" stroke="#111" stroke-width="0.26">40</text>
<line x1="32.00" y1="337.60" x2="35.60" y2="337.60" stroke="#222" stroke-width="1.05"/>
<text x="30.30" y="339.95" font-size="6.5" font-weight="bold" font-style="normal" text-anchor="end" fill="#111" stroke="#111" stroke-width="0.26">50</text>
<line x1="32.00" y1="426.40" x2="128.00" y2="426.40" stroke="#222" stroke-width="1.05"/>
<line x1="41.30" y1="426.40" x2="41.30" y2="430.30" stroke="#222" stroke-width="1.05"/>
<line x1="55.30" y1="426.40" x2="55.30" y2="430.30" stroke="#222" stroke-width="1.05"/>
<line x1="64.00" y1="426.40" x2="64.00" y2="430.30" stroke="#222" stroke-width="1.05"/>
<line x1="72.70" y1="426.40" x2="72.70" y2="430.30" stroke="#222" stroke-width="1.05"/>
<line x1="81.20" y1="426.40" x2="81.20" y2="430.30" stroke="#222" stroke-width="1.05"/>
<line x1="95.20" y1="426.40" x2="95.20" y2="430.30" stroke="#222" stroke-width="1.05"/>
<line x1="103.80" y1="426.40" x2="103.80" y2="430.30" stroke="#222" stroke-width="1.05"/>
<line x1="112.70" y1="426.40" x2="112.70" y2="430.30" stroke="#222" stroke-width="1.05"/>
<line x1="121.00" y1="426.40" x2="121.00" y2="430.30" stroke="#222" stroke-width="1.05"/>
<text x="68.30" y="398.90" font-size="6.2" font-weight="normal" font-style="italic" text-anchor="middle" fill="#111" stroke="#111" stroke-width="0.18">NT_sgRNA</text>
<line x1="52.30" y1="403.50" x2="83.80" y2="403.50" stroke="#666" stroke-width="0.7"/>
<text x="107.30" y="336.90" font-size="6.25" font-weight="normal" font-style="italic" text-anchor="middle" fill="#111" stroke="#111" stroke-width="0.18">SMURF1</text>
<line x1="90.60" y1="341.70" x2="121.80" y2="341.70" stroke="#666" stroke-width="0.7"/>
<text x="9.60" y="381.30" font-size="7.05" font-weight="bold" font-style="normal" text-anchor="middle" fill="#111" transform="rotate(-90 9.60 381.30)" stroke="#111" stroke-width="0.26">Fraction of</text>
<text x="18.70" y="381.70" font-size="7.05" font-weight="bold" font-style="normal" text-anchor="middle" fill="#111" transform="rotate(-90 18.70 381.70)" stroke="#111" stroke-width="0.26">eGFP-negative (%)</text>
<text x="31.10" y="439.70" font-size="6.5" font-weight="bold" font-style="normal" text-anchor="end" fill="#111" stroke="#111" stroke-width="0.26">Cas9</text>
<text x="31.10" y="447.40" font-size="6.5" font-weight="bold" font-style="normal" text-anchor="end" fill="#111" stroke="#111" stroke-width="0.26">ssODN</text>
<text x="31.10" y="455.00" font-size="6.5" font-weight="bold" font-style="normal" text-anchor="end" fill="#111" stroke="#111" stroke-width="0.26">PolQi2</text>
<text x="31.10" y="462.70" font-size="6.5" font-weight="bold" font-style="normal" text-anchor="end" fill="#111" stroke="#111" stroke-width="0.26">AZD7648</text>
<circle cx="55.30" cy="437.80" r="1.55" fill="#111" stroke="none" stroke-width="0.4"/>
<circle cx="64.00" cy="437.80" r="1.55" fill="#111" stroke="none" stroke-width="0.4"/>
<circle cx="72.70" cy="437.80" r="1.55" fill="#111" stroke="none" stroke-width="0.4"/>
<circle cx="81.20" cy="437.80" r="1.55" fill="#111" stroke="none" stroke-width="0.4"/>
<circle cx="95.20" cy="437.80" r="1.55" fill="#111" stroke="none" stroke-width="0.4"/>
<circle cx="103.80" cy="437.80" r="1.55" fill="#111" stroke="none" stroke-width="0.4"/>
<circle cx="112.70" cy="437.80" r="1.55" fill="#111" stroke="none" stroke-width="0.4"/>
<circle cx="121.00" cy="437.80" r="1.55" fill="#111" stroke="none" stroke-width="0.4"/>
<text x="41.30" y="439.80" font-size="7.0" font-weight="bold" font-style="normal" text-anchor="middle" fill="#111" stroke="#111" stroke-width="0.26">-</text>
<text x="41.30" y="447.50" font-size="7.0" font-weight="bold" font-style="normal" text-anchor="middle" fill="#111" stroke="#111" stroke-width="0.26">-</text>
<circle cx="64.00" cy="453.10" r="1.55" fill="#111" stroke="none" stroke-width="0.4"/>
<circle cx="81.20" cy="453.10" r="1.55" fill="#111" stroke="none" stroke-width="0.4"/>
<circle cx="103.80" cy="453.10" r="1.55" fill="#111" stroke="none" stroke-width="0.4"/>
<circle cx="121.00" cy="453.10" r="1.55" fill="#111" stroke="none" stroke-width="0.4"/>
<text x="41.30" y="455.10" font-size="7.0" font-weight="bold" font-style="normal" text-anchor="middle" fill="#111" stroke="#111" stroke-width="0.26">-</text>
<circle cx="72.70" cy="460.80" r="1.55" fill="#111" stroke="none" stroke-width="0.4"/>
<circle cx="81.20" cy="460.80" r="1.55" fill="#111" stroke="none" stroke-width="0.4"/>
<circle cx="112.70" cy="460.80" r="1.55" fill="#111" stroke="none" stroke-width="0.4"/>
<circle cx="121.00" cy="460.80" r="1.55" fill="#111" stroke="none" stroke-width="0.4"/>
<text x="41.30" y="462.80" font-size="7.0" font-weight="bold" font-style="normal" text-anchor="middle" fill="#111" stroke="#111" stroke-width="0.26">-</text>
<text x="236.00" y="307.40" font-size="7.6" font-weight="normal" font-style="normal" text-anchor="middle" fill="#111" stroke="#111" stroke-width="0.18">with ssODN</text>
<line x1="191.90" y1="313.40" x2="281.30" y2="313.40" stroke="#666" stroke-width="0.7"/>
<rect x="205.05" y="406.68" width="5.90" height="19.82" fill="#8dcbe6" stroke="#6592a5" stroke-width="0.5"/>
<rect x="214.05" y="410.14" width="5.90" height="16.36" fill="#8fea86" stroke="#66a860" stroke-width="0.5"/>
<rect x="222.55" y="406.14" width="5.90" height="20.36" fill="#4b78c5" stroke="#36568d" stroke-width="0.5"/>
<rect x="231.15" y="414.32" width="5.90" height="12.18" fill="#3c9a2a" stroke="#2b6e1e" stroke-width="0.5"/>
<rect x="245.65" y="392.50" width="5.90" height="34.00" fill="#8dcbe6" stroke="#6592a5" stroke-width="0.5"/>
<rect x="254.35" y="394.69" width="5.90" height="31.81" fill="#8fea86" stroke="#66a860" stroke-width="0.5"/>
<rect x="262.95" y="390.87" width="5.90" height="35.63" fill="#4b78c5" stroke="#36568d" stroke-width="0.5"/>
<rect x="271.75" y="397.78" width="5.90" height="28.72" fill="#3c9a2a" stroke="#2b6e1e" stroke-width="0.5"/>
<circle cx="192.20" cy="423.77" r="1.3" fill="#fff" stroke="#2a2a2a" stroke-width="0.5"/>
<circle cx="195.20" cy="423.77" r="1.3" fill="#fff" stroke="#2a2a2a" stroke-width="0.5"/>
<circle cx="206.50" cy="407.96" r="1.3" fill="#fff" stroke="#2a2a2a" stroke-width="0.5"/>
<circle cx="209.50" cy="405.59" r="1.3" fill="#fff" stroke="#2a2a2a" stroke-width="0.5"/>
<circle cx="215.50" cy="410.68" r="1.3" fill="#fff" stroke="#2a2a2a" stroke-width="0.5"/>
<circle cx="218.50" cy="408.68" r="1.3" fill="#fff" stroke="#2a2a2a" stroke-width="0.5"/>
<circle cx="224.00" cy="406.87" r="1.3" fill="#fff" stroke="#2a2a2a" stroke-width="0.5"/>
<circle cx="227.00" cy="405.77" r="1.3" fill="#fff" stroke="#2a2a2a" stroke-width="0.5"/>
<circle cx="232.60" cy="415.23" r="1.3" fill="#fff" stroke="#2a2a2a" stroke-width="0.5"/>
<circle cx="235.60" cy="413.77" r="1.3" fill="#fff" stroke="#2a2a2a" stroke-width="0.5"/>
<circle cx="247.10" cy="393.78" r="1.3" fill="#fff" stroke="#2a2a2a" stroke-width="0.5"/>
<circle cx="250.10" cy="390.14" r="1.3" fill="#fff" stroke="#2a2a2a" stroke-width="0.5"/>
<circle cx="255.80" cy="395.23" r="1.3" fill="#fff" stroke="#2a2a2a" stroke-width="0.5"/>
<circle cx="258.80" cy="393.05" r="1.3" fill="#fff" stroke="#2a2a2a" stroke-width="0.5"/>
<circle cx="264.40" cy="391.41" r="1.3" fill="#fff" stroke="#2a2a2a" stroke-width="0.5"/>
<circle cx="267.40" cy="389.41" r="1.3" fill="#fff" stroke="#2a2a2a" stroke-width="0.5"/>
<circle cx="273.20" cy="397.41" r="1.3" fill="#fff" stroke="#2a2a2a" stroke-width="0.5"/>
<circle cx="276.20" cy="396.32" r="1.3" fill="#fff" stroke="#2a2a2a" stroke-width="0.5"/>
<line x1="187.30" y1="335.08" x2="187.30" y2="427.02" stroke="#222" stroke-width="1.05"/>
<line x1="183.70" y1="426.50" x2="187.30" y2="426.50" stroke="#222" stroke-width="1.05"/>
<text x="182.00" y="428.85" font-size="6.5" font-weight="bold" font-style="normal" text-anchor="end" fill="#111" stroke="#111" stroke-width="0.26">0</text>
<line x1="183.70" y1="408.32" x2="187.30" y2="408.32" stroke="#222" stroke-width="1.05"/>
<text x="182.00" y="410.67" font-size="6.5" font-weight="bold" font-style="normal" text-anchor="end" fill="#111" stroke="#111" stroke-width="0.26">10</text>
<line x1="183.70" y1="390.14" x2="187.30" y2="390.14" stroke="#222" stroke-width="1.05"/>
<text x="182.00" y="392.49" font-size="6.5" font-weight="bold" font-style="normal" text-anchor="end" fill="#111" stroke="#111" stroke-width="0.26">20</text>
<line x1="183.70" y1="371.96" x2="187.30" y2="371.96" stroke="#222" stroke-width="1.05"/>
<text x="182.00" y="374.31" font-size="6.5" font-weight="bold" font-style="normal" text-anchor="end" fill="#111" stroke="#111" stroke-width="0.26">30</text>
<line x1="183.70" y1="353.78" x2="187.30" y2="353.78" stroke="#222" stroke-width="1.05"/>
<text x="182.00" y="356.13" font-size="6.5" font-weight="bold" font-style="normal" text-anchor="end" fill="#111" stroke="#111" stroke-width="0.26">40</text>
<line x1="183.70" y1="335.60" x2="187.30" y2="335.60" stroke="#222" stroke-width="1.05"/>
<text x="182.00" y="337.95" font-size="6.5" font-weight="bold" font-style="normal" text-anchor="end" fill="#111" stroke="#111" stroke-width="0.26">50</text>
<line x1="183.70" y1="426.50" x2="281.70" y2="426.50" stroke="#222" stroke-width="1.05"/>
<line x1="193.70" y1="426.50" x2="193.70" y2="430.40" stroke="#222" stroke-width="1.05"/>
<line x1="208.00" y1="426.50" x2="208.00" y2="430.40" stroke="#222" stroke-width="1.05"/>
<line x1="217.00" y1="426.50" x2="217.00" y2="430.40" stroke="#222" stroke-width="1.05"/>
<line x1="225.50" y1="426.50" x2="225.50" y2="430.40" stroke="#222" stroke-width="1.05"/>
<line x1="234.10" y1="426.50" x2="234.10" y2="430.40" stroke="#222" stroke-width="1.05"/>
<line x1="248.60" y1="426.50" x2="248.60" y2="430.40" stroke="#222" stroke-width="1.05"/>
<line x1="257.30" y1="426.50" x2="257.30" y2="430.40" stroke="#222" stroke-width="1.05"/>
<line x1="265.90" y1="426.50" x2="265.90" y2="430.40" stroke="#222" stroke-width="1.05"/>
<line x1="274.70" y1="426.50" x2="274.70" y2="430.40" stroke="#222" stroke-width="1.05"/>
<text x="221.60" y="393.70" font-size="6.2" font-weight="normal" font-style="italic" text-anchor="middle" fill="#111" stroke="#111" stroke-width="0.18">NT_sgRNA</text>
<line x1="204.90" y1="398.30" x2="237.40" y2="398.30" stroke="#666" stroke-width="0.7"/>
<text x="262.60" y="375.40" font-size="6.25" font-weight="normal" font-style="italic" text-anchor="middle" fill="#111" stroke="#111" stroke-width="0.18">SMURF1</text>
<line x1="245.70" y1="380.20" x2="278.10" y2="380.20" stroke="#666" stroke-width="0.7"/>
<text x="162.40" y="381.30" font-size="7.05" font-weight="bold" font-style="normal" text-anchor="middle" fill="#111" transform="rotate(-90 162.40 381.30)" stroke="#111" stroke-width="0.26">Fraction of</text>
<text x="171.00" y="381.70" font-size="7.05" font-weight="bold" font-style="normal" text-anchor="middle" fill="#111" transform="rotate(-90 171.00 381.70)" stroke="#111" stroke-width="0.26">eGFP-negative (%)</text>
<text x="183.80" y="439.70" font-size="6.5" font-weight="bold" font-style="normal" text-anchor="end" fill="#111" stroke="#111" stroke-width="0.26">Cas9</text>
<text x="183.80" y="447.40" font-size="6.5" font-weight="bold" font-style="normal" text-anchor="end" fill="#111" stroke="#111" stroke-width="0.26">ssODN</text>
<text x="183.80" y="455.00" font-size="6.5" font-weight="bold" font-style="normal" text-anchor="end" fill="#111" stroke="#111" stroke-width="0.26">PolQi2</text>
<text x="183.80" y="462.70" font-size="6.5" font-weight="bold" font-style="normal" text-anchor="end" fill="#111" stroke="#111" stroke-width="0.26">AZD7648</text>
<circle cx="208.00" cy="437.80" r="1.55" fill="#111" stroke="none" stroke-width="0.4"/>
<circle cx="217.00" cy="437.80" r="1.55" fill="#111" stroke="none" stroke-width="0.4"/>
<circle cx="225.50" cy="437.80" r="1.55" fill="#111" stroke="none" stroke-width="0.4"/>
<circle cx="234.10" cy="437.80" r="1.55" fill="#111" stroke="none" stroke-width="0.4"/>
<circle cx="248.60" cy="437.80" r="1.55" fill="#111" stroke="none" stroke-width="0.4"/>
<circle cx="257.30" cy="437.80" r="1.55" fill="#111" stroke="none" stroke-width="0.4"/>
<circle cx="265.90" cy="437.80" r="1.55" fill="#111" stroke="none" stroke-width="0.4"/>
<circle cx="274.70" cy="437.80" r="1.55" fill="#111" stroke="none" stroke-width="0.4"/>
<text x="193.70" y="439.80" font-size="7.0" font-weight="bold" font-style="normal" text-anchor="middle" fill="#111" stroke="#111" stroke-width="0.26">-</text>
<circle cx="208.00" cy="445.50" r="1.55" fill="#111" stroke="none" stroke-width="0.4"/>
<circle cx="217.00" cy="445.50" r="1.55" fill="#111" stroke="none" stroke-width="0.4"/>
<circle cx="225.50" cy="445.50" r="1.55" fill="#111" stroke="none" stroke-width="0.4"/>
<circle cx="234.10" cy="445.50" r="1.55" fill="#111" stroke="none" stroke-width="0.4"/>
<circle cx="248.60" cy="445.50" r="1.55" fill="#111" stroke="none" stroke-width="0.4"/>
<circle cx="257.30" cy="445.50" r="1.55" fill="#111" stroke="none" stroke-width="0.4"/>
<circle cx="265.90" cy="445.50" r="1.55" fill="#111" stroke="none" stroke-width="0.4"/>
<circle cx="274.70" cy="445.50" r="1.55" fill="#111" stroke="none" stroke-width="0.4"/>
<text x="193.70" y="447.50" font-size="7.0" font-weight="bold" font-style="normal" text-anchor="middle" fill="#111" stroke="#111" stroke-width="0.26">-</text>
<circle cx="217.00" cy="453.10" r="1.55" fill="#111" stroke="none" stroke-width="0.4"/>
<circle cx="234.10" cy="453.10" r="1.55" fill="#111" stroke="none" stroke-width="0.4"/>
<circle cx="257.30" cy="453.10" r="1.55" fill="#111" stroke="none" stroke-width="0.4"/>
<circle cx="274.70" cy="453.10" r="1.55" fill="#111" stroke="none" stroke-width="0.4"/>
<text x="193.70" y="455.10" font-size="7.0" font-weight="bold" font-style="normal" text-anchor="middle" fill="#111" stroke="#111" stroke-width="0.26">-</text>
<circle cx="225.50" cy="460.80" r="1.55" fill="#111" stroke="none" stroke-width="0.4"/>
<circle cx="234.10" cy="460.80" r="1.55" fill="#111" stroke="none" stroke-width="0.4"/>
<circle cx="265.90" cy="460.80" r="1.55" fill="#111" stroke="none" stroke-width="0.4"/>
<circle cx="274.70" cy="460.80" r="1.55" fill="#111" stroke="none" stroke-width="0.4"/>
<text x="193.70" y="462.80" font-size="7.0" font-weight="bold" font-style="normal" text-anchor="middle" fill="#111" stroke="#111" stroke-width="0.26">-</text>
<text x="318.50" y="294.60" font-size="10.5" font-weight="bold" font-style="normal" text-anchor="start" fill="#111" stroke="#111" stroke-width="0.26">e</text>
<text x="402.9" y="328.3" font-size="7.6" text-anchor="middle" stroke="#111" stroke-width="0.16" fill="#111"><tspan font-weight="bold" font-style="italic">SMURF1</tspan> - without ssODN</text>
<path d="M372.6 361.0 L373.2 360.6 L373.8 359.9 L374.3 358.6 L374.9 356.7 L375.5 354.5 L376.1 352.6 L376.7 351.7 L377.3 352.2 L377.8 353.8 L378.4 355.8 L379.0 357.5 L379.6 358.8 L380.2 359.5 L380.8 359.8 L381.3 360.0 L381.9 360.0 L382.5 360.1 L383.1 360.1 L383.7 360.2 L384.2 360.2 L384.8 360.2 L385.4 360.2 L386.0 360.2 L386.6 360.1 L387.2 360.1 L387.7 360.0 L388.3 360.0 L388.9 359.9 L389.5 359.9 L390.1 359.8 L390.6 359.7 L391.2 359.6 L391.8 359.5 L392.4 359.4 L393.0 359.3 L393.6 359.1 L394.1 359.0 L394.7 358.8 L395.3 358.5 L395.9 358.3 L396.5 358.0 L397.1 357.6 L397.6 357.2 L398.2 356.7 L398.8 356.1 L399.4 355.4 L400.0 354.6 L400.5 353.6 L401.1 352.6 L401.7 351.4 L402.3 350.1 L402.9 348.7 L403.5 347.3 L404.0 345.8 L404.6 344.3 L405.2 342.8 L405.8 341.4 L406.4 340.1 L407.0 339.1 L407.5 338.2 L408.1 337.6 L408.7 337.3 L409.3 337.3 L409.9 337.6 L410.4 338.2 L411.0 339.2 L411.6 340.4 L412.2 341.9 L412.8 343.5 L413.4 345.2 L413.9 346.9 L414.5 348.6 L415.1 350.2 L415.7 351.7 L416.3 353.1 L416.8 354.4 L417.4 355.5 L418.0 356.4 L418.6 357.3 L419.2 357.9 L419.8 358.5 L420.3 359.0 L420.9 359.4 L421.5 359.7 L422.1 359.9 L422.7 360.1 L423.3 360.3 L423.8 360.5 L424.4 360.6 L425.0 360.7 L425.0 361.2 L372.6 361.2 Z" fill="#f6c3c7"/>
<path d="M372.6 361.0 L373.2 360.6 L373.8 359.9 L374.3 358.6 L374.9 356.7 L375.5 354.5 L376.1 352.6 L376.7 351.7 L377.3 352.2 L377.8 353.8 L378.4 355.8 L379.0 357.5 L379.6 358.8 L380.2 359.5 L380.8 359.8 L381.3 360.0 L381.9 360.0 L382.5 360.1 L383.1 360.1 L383.7 360.2 L384.2 360.2 L384.8 360.2 L385.4 360.2 L386.0 360.2 L386.6 360.1 L387.2 360.1 L387.7 360.0 L388.3 360.0 L388.9 359.9 L389.5 359.9 L390.1 359.8 L390.6 359.7 L391.2 359.6 L391.8 359.5 L392.4 359.4 L393.0 359.3 L393.6 359.1 L394.1 359.0 L394.7 358.8 L395.3 358.5 L395.9 358.3 L396.5 358.0 L397.1 357.6 L397.6 357.2 L398.2 356.7 L398.8 356.1 L399.4 355.4 L400.0 354.6 L400.5 353.6 L401.1 352.6 L401.7 351.4 L402.3 350.1 L402.9 348.7 L403.5 347.3 L404.0 345.8 L404.6 344.3 L405.2 342.8 L405.8 341.4 L406.4 340.1 L407.0 339.1 L407.5 338.2 L408.1 337.6 L408.7 337.3 L409.3 337.3 L409.9 337.6 L410.4 338.2 L411.0 339.2 L411.6 340.4 L412.2 341.9 L412.8 343.5 L413.4 345.2 L413.9 346.9 L414.5 348.6 L415.1 350.2 L415.7 351.7 L416.3 353.1 L416.8 354.4 L417.4 355.5 L418.0 356.4 L418.6 357.3 L419.2 357.9 L419.8 358.5 L420.3 359.0 L420.9 359.4 L421.5 359.7 L422.1 359.9 L422.7 360.1 L423.3 360.3 L423.8 360.5 L424.4 360.6 L425.0 360.7" fill="none" stroke="#e58a93" stroke-width="0.7" stroke-linejoin="round"/>
<path d="M372.6 387.1 L373.2 386.7 L373.8 385.9 L374.4 384.3 L375.0 382.1 L375.6 379.5 L376.2 377.4 L376.8 376.5 L377.3 377.3 L377.9 379.3 L378.5 381.7 L379.1 383.7 L379.7 385.0 L380.3 385.7 L380.9 386.0 L381.5 386.2 L382.1 386.3 L382.7 386.3 L383.3 386.4 L383.9 386.4 L384.5 386.5 L385.1 386.5 L385.7 386.5 L386.2 386.5 L386.8 386.4 L387.4 386.4 L388.0 386.4 L388.6 386.3 L389.2 386.3 L389.8 386.2 L390.4 386.2 L391.0 386.1 L391.6 386.0 L392.2 385.9 L392.8 385.8 L393.4 385.7 L394.0 385.6 L394.6 385.4 L395.1 385.2 L395.7 385.0 L396.3 384.8 L396.9 384.5 L397.5 384.2 L398.1 383.8 L398.7 383.4 L399.3 382.8 L399.9 382.2 L400.5 381.5 L401.1 380.6 L401.7 379.7 L402.3 378.6 L402.9 377.4 L403.5 376.2 L404.0 374.9 L404.6 373.5 L405.2 372.1 L405.8 370.7 L406.4 369.3 L407.0 368.1 L407.6 367.0 L408.2 366.0 L408.8 365.3 L409.4 364.9 L410.0 364.7 L410.6 364.8 L411.2 365.2 L411.8 365.9 L412.4 367.0 L412.9 368.2 L413.5 369.7 L414.1 371.3 L414.7 372.9 L415.3 374.6 L415.9 376.2 L416.5 377.7 L417.1 379.1 L417.7 380.4 L418.3 381.6 L418.9 382.5 L419.5 383.4 L420.1 384.1 L420.7 384.7 L421.3 385.2 L421.8 385.6 L422.4 385.9 L423.0 386.1 L423.6 386.3 L424.2 386.5 L424.8 386.7 L425.4 386.8 L426.0 386.9 L426.0 387.4 L372.6 387.4 Z" fill="#e6c2f2"/>
<path d="M372.6 387.1 L373.2 386.7 L373.8 385.9 L374.4 384.3 L375.0 382.1 L375.6 379.5 L376.2 377.4 L376.8 376.5 L377.3 377.3 L377.9 379.3 L378.5 381.7 L379.1 383.7 L379.7 385.0 L380.3 385.7 L380.9 386.0 L381.5 386.2 L382.1 386.3 L382.7 386.3 L383.3 386.4 L383.9 386.4 L384.5 386.5 L385.1 386.5 L385.7 386.5 L386.2 386.5 L386.8 386.4 L387.4 386.4 L388.0 386.4 L388.6 386.3 L389.2 386.3 L389.8 386.2 L390.4 386.2 L391.0 386.1 L391.6 386.0 L392.2 385.9 L392.8 385.8 L393.4 385.7 L394.0 385.6 L394.6 385.4 L395.1 385.2 L395.7 385.0 L396.3 384.8 L396.9 384.5 L397.5 384.2 L398.1 383.8 L398.7 383.4 L399.3 382.8 L399.9 382.2 L400.5 381.5 L401.1 380.6 L401.7 379.7 L402.3 378.6 L402.9 377.4 L403.5 376.2 L404.0 374.9 L404.6 373.5 L405.2 372.1 L405.8 370.7 L406.4 369.3 L407.0 368.1 L407.6 367.0 L408.2 366.0 L408.8 365.3 L409.4 364.9 L410.0 364.7 L410.6 364.8 L411.2 365.2 L411.8 365.9 L412.4 367.0 L412.9 368.2 L413.5 369.7 L414.1 371.3 L414.7 372.9 L415.3 374.6 L415.9 376.2 L416.5 377.7 L417.1 379.1 L417.7 380.4 L418.3 381.6 L418.9 382.5 L419.5 383.4 L420.1 384.1 L420.7 384.7 L421.3 385.2 L421.8 385.6 L422.4 385.9 L423.0 386.1 L423.6 386.3 L424.2 386.5 L424.8 386.7 L425.4 386.8 L426.0 386.9" fill="none" stroke="#c48bd9" stroke-width="0.7" stroke-linejoin="round"/>
<path d="M372.6 413.2 L373.3 412.6 L374.0 410.9 L374.7 407.0 L375.4 400.8 L376.2 394.0 L376.9 390.4 L377.6 392.0 L378.3 397.2 L379.0 402.7 L379.7 406.2 L380.4 407.9 L381.1 408.5 L381.8 408.9 L382.5 409.3 L383.2 409.7 L384.0 410.1 L384.7 410.5 L385.4 410.8 L386.1 411.1 L386.8 411.2 L387.5 411.3 L388.2 411.4 L388.9 411.4 L389.6 411.4 L390.4 411.4 L391.1 411.4 L391.8 411.3 L392.5 411.3 L393.2 411.2 L393.9 411.1 L394.6 410.9 L395.3 410.8 L396.0 410.6 L396.7 410.4 L397.4 410.2 L398.2 409.9 L398.9 409.6 L399.6 409.3 L400.3 409.0 L401.0 408.6 L401.7 408.3 L402.4 407.9 L403.1 407.6 L403.8 407.3 L404.6 406.9 L405.3 406.6 L406.0 406.4 L406.7 406.1 L407.4 405.8 L408.1 405.5 L408.8 405.2 L409.5 404.8 L410.2 404.4 L410.9 403.8 L411.6 403.2 L412.4 402.4 L413.1 401.5 L413.8 400.6 L414.5 399.7 L415.2 398.9 L415.9 398.1 L416.6 397.6 L417.3 397.4 L418.0 397.4 L418.8 397.7 L419.5 398.3 L420.2 399.1 L420.9 400.1 L421.6 401.2 L422.3 402.4 L423.0 403.7 L423.7 404.9 L424.4 406.1 L425.1 407.2 L425.9 408.2 L426.6 409.1 L427.3 409.9 L428.0 410.6 L428.7 411.1 L429.4 411.6 L430.1 412.0 L430.8 412.3 L431.5 412.6 L432.2 412.8 L432.9 413.0 L433.7 413.1 L434.4 413.3 L435.1 413.3 L435.8 413.4 L436.5 413.5 L436.5 413.6 L372.6 413.6 Z" fill="#f07f86"/>
<path d="M372.6 413.2 L373.3 412.6 L374.0 410.9 L374.7 407.0 L375.4 400.8 L376.2 394.0 L376.9 390.4 L377.6 392.0 L378.3 397.2 L379.0 402.7 L379.7 406.2 L380.4 407.9 L381.1 408.5 L381.8 408.9 L382.5 409.3 L383.2 409.7 L384.0 410.1 L384.7 410.5 L385.4 410.8 L386.1 411.1 L386.8 411.2 L387.5 411.3 L388.2 411.4 L388.9 411.4 L389.6 411.4 L390.4 411.4 L391.1 411.4 L391.8 411.3 L392.5 411.3 L393.2 411.2 L393.9 411.1 L394.6 410.9 L395.3 410.8 L396.0 410.6 L396.7 410.4 L397.4 410.2 L398.2 409.9 L398.9 409.6 L399.6 409.3 L400.3 409.0 L401.0 408.6 L401.7 408.3 L402.4 407.9 L403.1 407.6 L403.8 407.3 L404.6 406.9 L405.3 406.6 L406.0 406.4 L406.7 406.1 L407.4 405.8 L408.1 405.5 L408.8 405.2 L409.5 404.8 L410.2 404.4 L410.9 403.8 L411.6 403.2 L412.4 402.4 L413.1 401.5 L413.8 400.6 L414.5 399.7 L415.2 398.9 L415.9 398.1 L416.6 397.6 L417.3 397.4 L418.0 397.4 L418.8 397.7 L419.5 398.3 L420.2 399.1 L420.9 400.1 L421.6 401.2 L422.3 402.4 L423.0 403.7 L423.7 404.9 L424.4 406.1 L425.1 407.2 L425.9 408.2 L426.6 409.1 L427.3 409.9 L428.0 410.6 L428.7 411.1 L429.4 411.6 L430.1 412.0 L430.8 412.3 L431.5 412.6 L432.2 412.8 L432.9 413.0 L433.7 413.1 L434.4 413.3 L435.1 413.3 L435.8 413.4 L436.5 413.5" fill="none" stroke="#d63f46" stroke-width="0.7" stroke-linejoin="round"/>
<path d="M374.3 438.8 L375.0 436.9 L375.7 432.6 L376.4 426.0 L377.1 419.2 L377.8 416.4 L378.5 417.7 L379.2 419.4 L379.9 421.3 L380.6 423.3 L381.3 425.3 L382.0 427.2 L382.7 429.0 L383.4 430.5 L384.1 431.6 L384.8 432.7 L385.5 433.3 L386.2 433.7 L386.9 434.0 L387.6 434.2 L388.3 434.1 L389.0 434.2 L389.7 434.4 L390.5 433.9 L391.2 434.3 L391.9 434.4 L392.6 433.9 L393.3 434.3 L394.0 434.3 L394.7 434.1 L395.4 434.2 L396.1 434.4 L396.8 434.3 L397.5 434.1 L398.2 434.7 L398.9 434.1 L399.6 434.1 L400.3 434.6 L401.0 433.9 L401.7 434.2 L402.4 434.3 L403.1 434.0 L403.8 433.9 L404.5 434.1 L405.2 434.0 L405.9 433.5 L406.6 434.0 L407.3 433.8 L408.0 433.2 L408.7 433.9 L409.4 433.4 L410.1 433.2 L410.8 433.6 L411.5 433.2 L412.2 433.1 L412.9 433.1 L413.6 433.4 L414.3 432.7 L415.0 433.0 L415.7 433.4 L416.4 432.5 L417.1 433.2 L417.8 433.2 L418.5 432.7 L419.2 433.2 L419.9 433.2 L420.6 433.1 L421.3 433.1 L422.1 433.6 L422.8 433.3 L423.5 433.3 L424.2 434.1 L424.9 433.6 L425.6 433.9 L426.3 434.6 L427.0 434.4 L427.7 434.9 L428.4 435.4 L429.1 435.8 L429.8 436.2 L430.5 436.9 L431.2 437.4 L431.9 437.7 L432.6 438.3 L433.3 438.5 L434.0 438.8 L434.7 439.1 L435.4 439.2 L436.1 439.3 L436.8 439.4 L437.5 439.5 L437.5 439.6 L374.3 439.6 Z" fill="#9d82cc"/>
<path d="M374.3 438.8 L375.0 436.9 L375.7 432.6 L376.4 426.0 L377.1 419.2 L377.8 416.4 L378.5 417.7 L379.2 419.4 L379.9 421.3 L380.6 423.3 L381.3 425.3 L382.0 427.2 L382.7 429.0 L383.4 430.5 L384.1 431.6 L384.8 432.7 L385.5 433.3 L386.2 433.7 L386.9 434.0 L387.6 434.2 L388.3 434.1 L389.0 434.2 L389.7 434.4 L390.5 433.9 L391.2 434.3 L391.9 434.4 L392.6 433.9 L393.3 434.3 L394.0 434.3 L394.7 434.1 L395.4 434.2 L396.1 434.4 L396.8 434.3 L397.5 434.1 L398.2 434.7 L398.9 434.1 L399.6 434.1 L400.3 434.6 L401.0 433.9 L401.7 434.2 L402.4 434.3 L403.1 434.0 L403.8 433.9 L404.5 434.1 L405.2 434.0 L405.9 433.5 L406.6 434.0 L407.3 433.8 L408.0 433.2 L408.7 433.9 L409.4 433.4 L410.1 433.2 L410.8 433.6 L411.5 433.2 L412.2 433.1 L412.9 433.1 L413.6 433.4 L414.3 432.7 L415.0 433.0 L415.7 433.4 L416.4 432.5 L417.1 433.2 L417.8 433.2 L418.5 432.7 L419.2 433.2 L419.9 433.2 L420.6 433.1 L421.3 433.1 L422.1 433.6 L422.8 433.3 L423.5 433.3 L424.2 434.1 L424.9 433.6 L425.6 433.9 L426.3 434.6 L427.0 434.4 L427.7 434.9 L428.4 435.4 L429.1 435.8 L429.8 436.2 L430.5 436.9 L431.2 437.4 L431.9 437.7 L432.6 438.3 L433.3 438.5 L434.0 438.8 L434.7 439.1 L435.4 439.2 L436.1 439.3 L436.8 439.4 L437.5 439.5" fill="none" stroke="#5532a0" stroke-width="0.7" stroke-linejoin="round"/>
<line x1="354.60" y1="361.20" x2="459.40" y2="361.20" stroke="#c6c6c6" stroke-width="0.5"/>
<line x1="354.60" y1="387.40" x2="459.40" y2="387.40" stroke="#c6c6c6" stroke-width="0.5"/>
<line x1="354.60" y1="413.60" x2="459.40" y2="413.60" stroke="#c6c6c6" stroke-width="0.5"/>
<line x1="389.20" y1="335.60" x2="389.20" y2="439.60" stroke="#777" stroke-width="0.6" stroke-dasharray="0.9 1.0"/>
<rect x="354.6" y="335.6" width="104.80" height="104.00" fill="none" stroke="#6e6e6e" stroke-width="0.75"/>
<text x="356.60" y="342.40" font-size="6.15" font-weight="normal" font-style="normal" text-anchor="start" fill="#111" stroke="#111" stroke-width="0.18">12.5%</text>
<text x="356.60" y="369.10" font-size="6.15" font-weight="normal" font-style="normal" text-anchor="start" fill="#111" stroke="#111" stroke-width="0.18">16.4%</text>
<text x="356.60" y="395.60" font-size="6.15" font-weight="normal" font-style="normal" text-anchor="start" fill="#111" stroke="#111" stroke-width="0.18">32.2%</text>
<text x="356.60" y="421.00" font-size="6.15" font-weight="normal" font-style="normal" text-anchor="start" fill="#111" stroke="#111" stroke-width="0.18">44.9%</text>
<text x="348.60" y="353.70" font-size="6.4" font-weight="bold" font-style="normal" text-anchor="end" fill="#111" stroke="#111" stroke-width="0.26">Cas9</text>
<text x="348.60" y="373.80" font-size="6.4" font-weight="bold" font-style="normal" text-anchor="end" fill="#111" stroke="#111" stroke-width="0.26">Cas9</text>
<text x="348.60" y="381.50" font-size="6.4" font-weight="bold" font-style="normal" text-anchor="end" fill="#111" stroke="#111" stroke-width="0.26">PolQi2</text>
<text x="348.60" y="400.00" font-size="6.4" font-weight="bold" font-style="normal" text-anchor="end" fill="#111" stroke="#111" stroke-width="0.26">Cas9</text>
<text x="348.60" y="407.30" font-size="6.4" font-weight="bold" font-style="normal" text-anchor="end" fill="#111" stroke="#111" stroke-width="0.26">AZD7648</text>
<text x="348.60" y="421.70" font-size="6.4" font-weight="bold" font-style="normal" text-anchor="end" fill="#111" stroke="#111" stroke-width="0.26">Cas9</text>
<text x="348.60" y="429.30" font-size="6.4" font-weight="bold" font-style="normal" text-anchor="end" fill="#111" stroke="#111" stroke-width="0.26">AZD7648</text>
<text x="348.60" y="436.90" font-size="6.4" font-weight="bold" font-style="normal" text-anchor="end" fill="#111" stroke="#111" stroke-width="0.26">PolQi2</text>
<line x1="377.70" y1="439.60" x2="377.70" y2="442.00" stroke="#222" stroke-width="0.55"/>
<text x="377.70" y="448.40" font-size="4.1" text-anchor="middle" fill="#444">0</text>
<line x1="419.00" y1="439.60" x2="419.00" y2="442.00" stroke="#222" stroke-width="0.55"/>
<text x="418.60" y="448.40" font-size="4.1" text-anchor="middle" fill="#444">10<tspan dy="-1.6" font-size="2.9">4</tspan></text>
<line x1="441.00" y1="439.60" x2="441.00" y2="442.00" stroke="#222" stroke-width="0.55"/>
<text x="440.60" y="448.40" font-size="4.1" text-anchor="middle" fill="#444">10<tspan dy="-1.6" font-size="2.9">5</tspan></text>
<line x1="456.20" y1="439.60" x2="456.20" y2="442.00" stroke="#222" stroke-width="0.55"/>
<text x="455.80" y="448.40" font-size="4.1" text-anchor="middle" fill="#444">10<tspan dy="-1.6" font-size="2.9">6</tspan></text>
<rect x="374.50" y="439.20" width="3.40" height="1.70" fill="#111" stroke="none" stroke-width="0.5"/>
<line x1="425.62" y1="439.60" x2="425.62" y2="441.10" stroke="#333" stroke-width="0.4"/>
<line x1="429.50" y1="439.60" x2="429.50" y2="441.10" stroke="#333" stroke-width="0.4"/>
<line x1="432.25" y1="439.60" x2="432.25" y2="441.10" stroke="#333" stroke-width="0.4"/>
<line x1="434.38" y1="439.60" x2="434.38" y2="441.10" stroke="#333" stroke-width="0.4"/>
<line x1="436.12" y1="439.60" x2="436.12" y2="441.10" stroke="#333" stroke-width="0.4"/>
<line x1="437.59" y1="439.60" x2="437.59" y2="441.10" stroke="#333" stroke-width="0.4"/>
<line x1="438.87" y1="439.60" x2="438.87" y2="441.10" stroke="#333" stroke-width="0.4"/>
<line x1="439.99" y1="439.60" x2="439.99" y2="441.10" stroke="#333" stroke-width="0.4"/>
<line x1="445.58" y1="439.60" x2="445.58" y2="441.10" stroke="#333" stroke-width="0.4"/>
<line x1="448.25" y1="439.60" x2="448.25" y2="441.10" stroke="#333" stroke-width="0.4"/>
<line x1="450.15" y1="439.60" x2="450.15" y2="441.10" stroke="#333" stroke-width="0.4"/>
<line x1="451.62" y1="439.60" x2="451.62" y2="441.10" stroke="#333" stroke-width="0.4"/>
<line x1="452.83" y1="439.60" x2="452.83" y2="441.10" stroke="#333" stroke-width="0.4"/>
<line x1="453.85" y1="439.60" x2="453.85" y2="441.10" stroke="#333" stroke-width="0.4"/>
<line x1="454.73" y1="439.60" x2="454.73" y2="441.10" stroke="#333" stroke-width="0.4"/>
<line x1="455.50" y1="439.60" x2="455.50" y2="441.10" stroke="#333" stroke-width="0.4"/>
<line x1="403.62" y1="439.60" x2="403.62" y2="441.10" stroke="#333" stroke-width="0.4"/>
<line x1="407.50" y1="439.60" x2="407.50" y2="441.10" stroke="#333" stroke-width="0.4"/>
<line x1="410.25" y1="439.60" x2="410.25" y2="441.10" stroke="#333" stroke-width="0.4"/>
<line x1="412.38" y1="439.60" x2="412.38" y2="441.10" stroke="#333" stroke-width="0.4"/>
<line x1="414.12" y1="439.60" x2="414.12" y2="441.10" stroke="#333" stroke-width="0.4"/>
<line x1="415.59" y1="439.60" x2="415.59" y2="441.10" stroke="#333" stroke-width="0.4"/>
<line x1="416.87" y1="439.60" x2="416.87" y2="441.10" stroke="#333" stroke-width="0.4"/>
<line x1="417.99" y1="439.60" x2="417.99" y2="441.10" stroke="#333" stroke-width="0.4"/>
<line x1="372.60" y1="439.60" x2="372.60" y2="441.10" stroke="#333" stroke-width="0.4"/>
<line x1="370.90" y1="439.60" x2="370.90" y2="441.10" stroke="#333" stroke-width="0.4"/>
<line x1="369.20" y1="439.60" x2="369.20" y2="441.10" stroke="#333" stroke-width="0.4"/>
<line x1="367.50" y1="439.60" x2="367.50" y2="441.10" stroke="#333" stroke-width="0.4"/>
<line x1="365.80" y1="439.60" x2="365.80" y2="441.10" stroke="#333" stroke-width="0.4"/>
<line x1="364.10" y1="439.60" x2="364.10" y2="441.10" stroke="#333" stroke-width="0.4"/>
<line x1="362.40" y1="439.60" x2="362.40" y2="441.10" stroke="#333" stroke-width="0.4"/>
<line x1="360.70" y1="439.60" x2="360.70" y2="441.10" stroke="#333" stroke-width="0.4"/>
<line x1="380.20" y1="439.60" x2="380.20" y2="441.10" stroke="#333" stroke-width="0.4"/>
<line x1="382.10" y1="439.60" x2="382.10" y2="441.10" stroke="#333" stroke-width="0.4"/>
<line x1="384.00" y1="439.60" x2="384.00" y2="441.10" stroke="#333" stroke-width="0.4"/>
<line x1="385.90" y1="439.60" x2="385.90" y2="441.10" stroke="#333" stroke-width="0.4"/>
<line x1="390.30" y1="453.90" x2="422.40" y2="453.90" stroke="#111" stroke-width="0.85"/>
<path d="M425.40 453.90 L420.40 451.70 L420.40 456.10 Z" fill="#111"/>
<text x="405.00" y="465.10" font-size="6.1" font-weight="bold" font-style="normal" text-anchor="middle" fill="#111" stroke="#111" stroke-width="0.26">eGFP</text>
<text x="559.6" y="328.3" font-size="7.6" text-anchor="middle" stroke="#111" stroke-width="0.16" fill="#111"><tspan font-weight="bold" font-style="italic">SMURF1</tspan> - with ssODN</text>
<path d="M528.6 361.2 L529.2 360.4 L529.8 358.8 L530.3 356.1 L530.9 352.7 L531.5 349.2 L532.1 346.8 L532.7 346.6 L533.3 348.5 L533.8 351.6 L534.4 354.9 L535.0 357.4 L535.6 359.0 L536.2 359.8 L536.8 360.2 L537.3 360.4 L537.9 360.5 L538.5 360.6 L539.1 360.7 L539.7 360.7 L540.2 360.8 L540.8 360.8 L541.4 360.8 L542.0 360.8 L542.6 360.8 L543.2 360.7 L543.7 360.7 L544.3 360.7 L544.9 360.6 L545.5 360.5 L546.1 360.5 L546.6 360.4 L547.2 360.3 L547.8 360.2 L548.4 360.1 L549.0 360.0 L549.6 359.8 L550.1 359.7 L550.7 359.5 L551.3 359.3 L551.9 359.0 L552.5 358.7 L553.1 358.4 L553.6 358.0 L554.2 357.5 L554.8 356.9 L555.4 356.2 L556.0 355.5 L556.5 354.6 L557.1 353.6 L557.7 352.5 L558.3 351.2 L558.9 349.9 L559.5 348.5 L560.0 347.1 L560.6 345.6 L561.2 344.2 L561.8 342.9 L562.4 341.7 L563.0 340.7 L563.5 339.9 L564.1 339.3 L564.7 339.0 L565.3 339.0 L565.9 339.3 L566.4 339.9 L567.0 340.8 L567.6 342.0 L568.2 343.4 L568.8 344.9 L569.4 346.5 L569.9 348.1 L570.5 349.8 L571.1 351.3 L571.7 352.8 L572.3 354.1 L572.8 355.3 L573.4 356.4 L574.0 357.3 L574.6 358.0 L575.2 358.7 L575.8 359.2 L576.3 359.7 L576.9 360.0 L577.5 360.3 L578.1 360.6 L578.7 360.8 L579.3 361.0 L579.8 361.1 L580.4 361.2 L581.0 361.3 L581.0 361.8 L528.6 361.8 Z" fill="#c9def1"/>
<path d="M528.6 361.2 L529.2 360.4 L529.8 358.8 L530.3 356.1 L530.9 352.7 L531.5 349.2 L532.1 346.8 L532.7 346.6 L533.3 348.5 L533.8 351.6 L534.4 354.9 L535.0 357.4 L535.6 359.0 L536.2 359.8 L536.8 360.2 L537.3 360.4 L537.9 360.5 L538.5 360.6 L539.1 360.7 L539.7 360.7 L540.2 360.8 L540.8 360.8 L541.4 360.8 L542.0 360.8 L542.6 360.8 L543.2 360.7 L543.7 360.7 L544.3 360.7 L544.9 360.6 L545.5 360.5 L546.1 360.5 L546.6 360.4 L547.2 360.3 L547.8 360.2 L548.4 360.1 L549.0 360.0 L549.6 359.8 L550.1 359.7 L550.7 359.5 L551.3 359.3 L551.9 359.0 L552.5 358.7 L553.1 358.4 L553.6 358.0 L554.2 357.5 L554.8 356.9 L555.4 356.2 L556.0 355.5 L556.5 354.6 L557.1 353.6 L557.7 352.5 L558.3 351.2 L558.9 349.9 L559.5 348.5 L560.0 347.1 L560.6 345.6 L561.2 344.2 L561.8 342.9 L562.4 341.7 L563.0 340.7 L563.5 339.9 L564.1 339.3 L564.7 339.0 L565.3 339.0 L565.9 339.3 L566.4 339.9 L567.0 340.8 L567.6 342.0 L568.2 343.4 L568.8 344.9 L569.4 346.5 L569.9 348.1 L570.5 349.8 L571.1 351.3 L571.7 352.8 L572.3 354.1 L572.8 355.3 L573.4 356.4 L574.0 357.3 L574.6 358.0 L575.2 358.7 L575.8 359.2 L576.3 359.7 L576.9 360.0 L577.5 360.3 L578.1 360.6 L578.7 360.8 L579.3 361.0 L579.8 361.1 L580.4 361.2 L581.0 361.3" fill="none" stroke="#96b9dc" stroke-width="0.7" stroke-linejoin="round"/>
<path d="M528.6 387.6 L529.2 386.8 L529.8 385.2 L530.4 382.5 L531.0 379.1 L531.6 375.7 L532.2 373.5 L532.8 373.6 L533.3 375.7 L533.9 378.9 L534.5 382.0 L535.1 384.3 L535.7 385.7 L536.3 386.4 L536.9 386.7 L537.5 386.8 L538.1 386.9 L538.7 387.0 L539.3 387.1 L539.9 387.1 L540.5 387.2 L541.1 387.2 L541.7 387.2 L542.2 387.2 L542.8 387.2 L543.4 387.1 L544.0 387.1 L544.6 387.1 L545.2 387.0 L545.8 386.9 L546.4 386.9 L547.0 386.8 L547.6 386.7 L548.2 386.6 L548.8 386.5 L549.4 386.4 L550.0 386.2 L550.6 386.0 L551.1 385.8 L551.7 385.6 L552.3 385.4 L552.9 385.0 L553.5 384.7 L554.1 384.2 L554.7 383.7 L555.3 383.1 L555.9 382.4 L556.5 381.6 L557.1 380.7 L557.7 379.6 L558.3 378.5 L558.9 377.2 L559.5 375.8 L560.0 374.4 L560.6 373.0 L561.2 371.5 L561.8 370.1 L562.4 368.7 L563.0 367.5 L563.6 366.4 L564.2 365.6 L564.8 365.0 L565.4 364.6 L566.0 364.6 L566.6 364.8 L567.2 365.4 L567.8 366.4 L568.4 367.6 L568.9 369.0 L569.5 370.6 L570.1 372.3 L570.7 374.0 L571.3 375.7 L571.9 377.4 L572.5 378.9 L573.1 380.3 L573.7 381.6 L574.3 382.7 L574.9 383.6 L575.5 384.4 L576.1 385.1 L576.7 385.6 L577.3 386.1 L577.8 386.5 L578.4 386.8 L579.0 387.0 L579.6 387.2 L580.2 387.4 L580.8 387.5 L581.4 387.6 L582.0 387.7 L582.0 388.2 L528.6 388.2 Z" fill="#b1f1a9"/>
<path d="M528.6 387.6 L529.2 386.8 L529.8 385.2 L530.4 382.5 L531.0 379.1 L531.6 375.7 L532.2 373.5 L532.8 373.6 L533.3 375.7 L533.9 378.9 L534.5 382.0 L535.1 384.3 L535.7 385.7 L536.3 386.4 L536.9 386.7 L537.5 386.8 L538.1 386.9 L538.7 387.0 L539.3 387.1 L539.9 387.1 L540.5 387.2 L541.1 387.2 L541.7 387.2 L542.2 387.2 L542.8 387.2 L543.4 387.1 L544.0 387.1 L544.6 387.1 L545.2 387.0 L545.8 386.9 L546.4 386.9 L547.0 386.8 L547.6 386.7 L548.2 386.6 L548.8 386.5 L549.4 386.4 L550.0 386.2 L550.6 386.0 L551.1 385.8 L551.7 385.6 L552.3 385.4 L552.9 385.0 L553.5 384.7 L554.1 384.2 L554.7 383.7 L555.3 383.1 L555.9 382.4 L556.5 381.6 L557.1 380.7 L557.7 379.6 L558.3 378.5 L558.9 377.2 L559.5 375.8 L560.0 374.4 L560.6 373.0 L561.2 371.5 L561.8 370.1 L562.4 368.7 L563.0 367.5 L563.6 366.4 L564.2 365.6 L564.8 365.0 L565.4 364.6 L566.0 364.6 L566.6 364.8 L567.2 365.4 L567.8 366.4 L568.4 367.6 L568.9 369.0 L569.5 370.6 L570.1 372.3 L570.7 374.0 L571.3 375.7 L571.9 377.4 L572.5 378.9 L573.1 380.3 L573.7 381.6 L574.3 382.7 L574.9 383.6 L575.5 384.4 L576.1 385.1 L576.7 385.6 L577.3 386.1 L577.8 386.5 L578.4 386.8 L579.0 387.0 L579.6 387.2 L580.2 387.4 L580.8 387.5 L581.4 387.6 L582.0 387.7" fill="none" stroke="#74d26c" stroke-width="0.7" stroke-linejoin="round"/>
<path d="M528.6 413.4 L529.2 412.5 L529.8 410.7 L530.5 407.7 L531.1 403.9 L531.7 400.4 L532.3 398.7 L532.9 399.5 L533.6 402.3 L534.2 405.9 L534.8 408.9 L535.4 410.9 L536.1 412.0 L536.7 412.4 L537.3 412.7 L537.9 412.8 L538.5 412.9 L539.2 413.0 L539.8 413.1 L540.4 413.1 L541.0 413.2 L541.6 413.2 L542.3 413.2 L542.9 413.2 L543.5 413.2 L544.1 413.1 L544.7 413.1 L545.4 413.1 L546.0 413.0 L546.6 413.0 L547.2 413.0 L547.9 412.9 L548.5 412.8 L549.1 412.8 L549.7 412.7 L550.3 412.6 L551.0 412.5 L551.6 412.4 L552.2 412.3 L552.8 412.1 L553.4 412.0 L554.1 411.8 L554.7 411.5 L555.3 411.3 L555.9 410.9 L556.5 410.5 L557.2 410.1 L557.8 409.5 L558.4 408.9 L559.0 408.2 L559.7 407.3 L560.3 406.3 L560.9 405.2 L561.5 404.0 L562.1 402.7 L562.8 401.3 L563.4 399.9 L564.0 398.4 L564.6 397.0 L565.2 395.7 L565.9 394.5 L566.5 393.5 L567.1 392.7 L567.7 392.2 L568.4 391.9 L569.0 391.9 L569.6 392.3 L570.2 393.0 L570.8 394.1 L571.5 395.4 L572.1 396.9 L572.7 398.5 L573.3 400.2 L573.9 401.9 L574.6 403.5 L575.2 405.0 L575.8 406.4 L576.4 407.7 L577.0 408.7 L577.7 409.7 L578.3 410.5 L578.9 411.1 L579.5 411.7 L580.2 412.1 L580.8 412.4 L581.4 412.7 L582.0 412.9 L582.6 413.1 L583.3 413.3 L583.9 413.4 L584.5 413.5 L584.5 414.0 L528.6 414.0 Z" fill="#a0a0e4"/>
<path d="M528.6 413.4 L529.2 412.5 L529.8 410.7 L530.5 407.7 L531.1 403.9 L531.7 400.4 L532.3 398.7 L532.9 399.5 L533.6 402.3 L534.2 405.9 L534.8 408.9 L535.4 410.9 L536.1 412.0 L536.7 412.4 L537.3 412.7 L537.9 412.8 L538.5 412.9 L539.2 413.0 L539.8 413.1 L540.4 413.1 L541.0 413.2 L541.6 413.2 L542.3 413.2 L542.9 413.2 L543.5 413.2 L544.1 413.1 L544.7 413.1 L545.4 413.1 L546.0 413.0 L546.6 413.0 L547.2 413.0 L547.9 412.9 L548.5 412.8 L549.1 412.8 L549.7 412.7 L550.3 412.6 L551.0 412.5 L551.6 412.4 L552.2 412.3 L552.8 412.1 L553.4 412.0 L554.1 411.8 L554.7 411.5 L555.3 411.3 L555.9 410.9 L556.5 410.5 L557.2 410.1 L557.8 409.5 L558.4 408.9 L559.0 408.2 L559.7 407.3 L560.3 406.3 L560.9 405.2 L561.5 404.0 L562.1 402.7 L562.8 401.3 L563.4 399.9 L564.0 398.4 L564.6 397.0 L565.2 395.7 L565.9 394.5 L566.5 393.5 L567.1 392.7 L567.7 392.2 L568.4 391.9 L569.0 391.9 L569.6 392.3 L570.2 393.0 L570.8 394.1 L571.5 395.4 L572.1 396.9 L572.7 398.5 L573.3 400.2 L573.9 401.9 L574.6 403.5 L575.2 405.0 L575.8 406.4 L576.4 407.7 L577.0 408.7 L577.7 409.7 L578.3 410.5 L578.9 411.1 L579.5 411.7 L580.2 412.1 L580.8 412.4 L581.4 412.7 L582.0 412.9 L582.6 413.1 L583.3 413.3 L583.9 413.4 L584.5 413.5" fill="none" stroke="#5050b0" stroke-width="0.7" stroke-linejoin="round"/>
<path d="M528.4 439.3 L529.1 438.3 L529.7 436.8 L530.4 434.7 L531.0 432.4 L531.7 430.3 L532.3 429.0 L533.0 428.9 L533.7 430.0 L534.3 431.8 L535.0 433.8 L535.6 435.6 L536.3 437.0 L536.9 437.8 L537.6 438.3 L538.2 438.6 L538.9 438.7 L539.6 438.8 L540.2 438.9 L540.9 438.9 L541.5 438.9 L542.2 438.9 L542.8 438.9 L543.5 438.9 L544.2 438.9 L544.8 438.9 L545.5 438.8 L546.1 438.8 L546.8 438.8 L547.4 438.7 L548.1 438.7 L548.8 438.6 L549.4 438.5 L550.1 438.5 L550.7 438.4 L551.4 438.3 L552.0 438.2 L552.7 438.1 L553.4 438.0 L554.0 437.9 L554.7 437.7 L555.3 437.6 L556.0 437.4 L556.6 437.2 L557.3 437.0 L558.0 436.8 L558.6 436.6 L559.3 436.3 L559.9 435.9 L560.6 435.5 L561.2 435.0 L561.9 434.5 L562.5 433.8 L563.2 433.1 L563.9 432.2 L564.5 431.2 L565.2 430.0 L565.8 428.8 L566.5 427.4 L567.1 426.0 L567.8 424.5 L568.5 423.0 L569.1 421.5 L569.8 420.1 L570.4 418.9 L571.1 417.8 L571.7 416.9 L572.4 416.3 L573.1 416.0 L573.7 416.1 L574.4 416.5 L575.0 417.5 L575.7 418.8 L576.3 420.5 L577.0 422.4 L577.6 424.4 L578.3 426.5 L579.0 428.5 L579.6 430.4 L580.3 432.2 L580.9 433.7 L581.6 435.1 L582.2 436.2 L582.9 437.1 L583.6 437.9 L584.2 438.4 L584.9 438.9 L585.5 439.2 L586.2 439.5 L586.8 439.7 L587.5 439.8 L587.5 440.3 L528.4 440.3 Z" fill="#97c077"/>
<path d="M528.4 439.3 L529.1 438.3 L529.7 436.8 L530.4 434.7 L531.0 432.4 L531.7 430.3 L532.3 429.0 L533.0 428.9 L533.7 430.0 L534.3 431.8 L535.0 433.8 L535.6 435.6 L536.3 437.0 L536.9 437.8 L537.6 438.3 L538.2 438.6 L538.9 438.7 L539.6 438.8 L540.2 438.9 L540.9 438.9 L541.5 438.9 L542.2 438.9 L542.8 438.9 L543.5 438.9 L544.2 438.9 L544.8 438.9 L545.5 438.8 L546.1 438.8 L546.8 438.8 L547.4 438.7 L548.1 438.7 L548.8 438.6 L549.4 438.5 L550.1 438.5 L550.7 438.4 L551.4 438.3 L552.0 438.2 L552.7 438.1 L553.4 438.0 L554.0 437.9 L554.7 437.7 L555.3 437.6 L556.0 437.4 L556.6 437.2 L557.3 437.0 L558.0 436.8 L558.6 436.6 L559.3 436.3 L559.9 435.9 L560.6 435.5 L561.2 435.0 L561.9 434.5 L562.5 433.8 L563.2 433.1 L563.9 432.2 L564.5 431.2 L565.2 430.0 L565.8 428.8 L566.5 427.4 L567.1 426.0 L567.8 424.5 L568.5 423.0 L569.1 421.5 L569.8 420.1 L570.4 418.9 L571.1 417.8 L571.7 416.9 L572.4 416.3 L573.1 416.0 L573.7 416.1 L574.4 416.5 L575.0 417.5 L575.7 418.8 L576.3 420.5 L577.0 422.4 L577.6 424.4 L578.3 426.5 L579.0 428.5 L579.6 430.4 L580.3 432.2 L580.9 433.7 L581.6 435.1 L582.2 436.2 L582.9 437.1 L583.6 437.9 L584.2 438.4 L584.9 438.9 L585.5 439.2 L586.2 439.5 L586.8 439.7 L587.5 439.8" fill="none" stroke="#4f8a32" stroke-width="0.7" stroke-linejoin="round"/>
<line x1="510.40" y1="361.80" x2="615.40" y2="361.80" stroke="#c6c6c6" stroke-width="0.5"/>
<line x1="510.40" y1="388.20" x2="615.40" y2="388.20" stroke="#c6c6c6" stroke-width="0.5"/>
<line x1="510.40" y1="414.00" x2="615.40" y2="414.00" stroke="#c6c6c6" stroke-width="0.5"/>
<line x1="545.40" y1="335.90" x2="545.40" y2="440.30" stroke="#777" stroke-width="0.6" stroke-dasharray="0.9 1.0"/>
<rect x="510.4" y="335.9" width="105.00" height="104.40" fill="none" stroke="#6e6e6e" stroke-width="0.75"/>
<text x="512.80" y="343.60" font-size="6.15" font-weight="normal" font-style="normal" text-anchor="start" fill="#111" stroke="#111" stroke-width="0.18">17.9%</text>
<text x="512.80" y="370.20" font-size="6.15" font-weight="normal" font-style="normal" text-anchor="start" fill="#111" stroke="#111" stroke-width="0.18">16.9%</text>
<text x="512.80" y="396.00" font-size="6.15" font-weight="normal" font-style="normal" text-anchor="start" fill="#111" stroke="#111" stroke-width="0.18">19.2%</text>
<text x="512.80" y="421.00" font-size="6.15" font-weight="normal" font-style="normal" text-anchor="start" fill="#111" stroke="#111" stroke-width="0.18">15.9%</text>
<text x="505.80" y="343.30" font-size="6.4" font-weight="bold" font-style="normal" text-anchor="end" fill="#111" stroke="#111" stroke-width="0.26">Cas9</text>
<text x="505.80" y="350.90" font-size="6.4" font-weight="bold" font-style="normal" text-anchor="end" fill="#111" stroke="#111" stroke-width="0.26">ssODN</text>
<text x="505.80" y="369.90" font-size="6.4" font-weight="bold" font-style="normal" text-anchor="end" fill="#111" stroke="#111" stroke-width="0.26">Cas9</text>
<text x="505.80" y="377.40" font-size="6.4" font-weight="bold" font-style="normal" text-anchor="end" fill="#111" stroke="#111" stroke-width="0.26">ssODN</text>
<text x="505.80" y="385.00" font-size="6.4" font-weight="bold" font-style="normal" text-anchor="end" fill="#111" stroke="#111" stroke-width="0.26">PolQi2</text>
<text x="505.80" y="396.50" font-size="6.4" font-weight="bold" font-style="normal" text-anchor="end" fill="#111" stroke="#111" stroke-width="0.26">Cas9</text>
<text x="505.80" y="404.20" font-size="6.4" font-weight="bold" font-style="normal" text-anchor="end" fill="#111" stroke="#111" stroke-width="0.26">ssODN</text>
<text x="505.80" y="411.80" font-size="6.4" font-weight="bold" font-style="normal" text-anchor="end" fill="#111" stroke="#111" stroke-width="0.26">AZD7648</text>
<text x="505.80" y="420.50" font-size="6.4" font-weight="bold" font-style="normal" text-anchor="end" fill="#111" stroke="#111" stroke-width="0.26">Cas9</text>
<text x="505.80" y="428.10" font-size="6.4" font-weight="bold" font-style="normal" text-anchor="end" fill="#111" stroke="#111" stroke-width="0.26">ssODN</text>
<text x="505.80" y="435.70" font-size="6.4" font-weight="bold" font-style="normal" text-anchor="end" fill="#111" stroke="#111" stroke-width="0.26">AZD7648</text>
<text x="505.80" y="443.30" font-size="6.4" font-weight="bold" font-style="normal" text-anchor="end" fill="#111" stroke="#111" stroke-width="0.26">PolQi2</text>
<line x1="533.80" y1="440.30" x2="533.80" y2="442.70" stroke="#222" stroke-width="0.55"/>
<text x="533.80" y="449.10" font-size="4.1" text-anchor="middle" fill="#444">0</text>
<line x1="574.40" y1="440.30" x2="574.40" y2="442.70" stroke="#222" stroke-width="0.55"/>
<text x="574.00" y="449.10" font-size="4.1" text-anchor="middle" fill="#444">10<tspan dy="-1.6" font-size="2.9">4</tspan></text>
<line x1="596.40" y1="440.30" x2="596.40" y2="442.70" stroke="#222" stroke-width="0.55"/>
<text x="596.00" y="449.10" font-size="4.1" text-anchor="middle" fill="#444">10<tspan dy="-1.6" font-size="2.9">5</tspan></text>
<line x1="611.60" y1="440.30" x2="611.60" y2="442.70" stroke="#222" stroke-width="0.55"/>
<text x="611.20" y="449.10" font-size="4.1" text-anchor="middle" fill="#444">10<tspan dy="-1.6" font-size="2.9">6</tspan></text>
<rect x="530.60" y="439.90" width="3.40" height="1.70" fill="#111" stroke="none" stroke-width="0.5"/>
<line x1="581.02" y1="440.30" x2="581.02" y2="441.80" stroke="#333" stroke-width="0.4"/>
<line x1="584.90" y1="440.30" x2="584.90" y2="441.80" stroke="#333" stroke-width="0.4"/>
<line x1="587.65" y1="440.30" x2="587.65" y2="441.80" stroke="#333" stroke-width="0.4"/>
<line x1="589.78" y1="440.30" x2="589.78" y2="441.80" stroke="#333" stroke-width="0.4"/>
<line x1="591.52" y1="440.30" x2="591.52" y2="441.80" stroke="#333" stroke-width="0.4"/>
<line x1="592.99" y1="440.30" x2="592.99" y2="441.80" stroke="#333" stroke-width="0.4"/>
<line x1="594.27" y1="440.30" x2="594.27" y2="441.80" stroke="#333" stroke-width="0.4"/>
<line x1="595.39" y1="440.30" x2="595.39" y2="441.80" stroke="#333" stroke-width="0.4"/>
<line x1="600.98" y1="440.30" x2="600.98" y2="441.80" stroke="#333" stroke-width="0.4"/>
<line x1="603.65" y1="440.30" x2="603.65" y2="441.80" stroke="#333" stroke-width="0.4"/>
<line x1="605.55" y1="440.30" x2="605.55" y2="441.80" stroke="#333" stroke-width="0.4"/>
<line x1="607.02" y1="440.30" x2="607.02" y2="441.80" stroke="#333" stroke-width="0.4"/>
<line x1="608.23" y1="440.30" x2="608.23" y2="441.80" stroke="#333" stroke-width="0.4"/>
<line x1="609.25" y1="440.30" x2="609.25" y2="441.80" stroke="#333" stroke-width="0.4"/>
<line x1="610.13" y1="440.30" x2="610.13" y2="441.80" stroke="#333" stroke-width="0.4"/>
<line x1="610.90" y1="440.30" x2="610.90" y2="441.80" stroke="#333" stroke-width="0.4"/>
<line x1="559.02" y1="440.30" x2="559.02" y2="441.80" stroke="#333" stroke-width="0.4"/>
<line x1="562.90" y1="440.30" x2="562.90" y2="441.80" stroke="#333" stroke-width="0.4"/>
<line x1="565.65" y1="440.30" x2="565.65" y2="441.80" stroke="#333" stroke-width="0.4"/>
<line x1="567.78" y1="440.30" x2="567.78" y2="441.80" stroke="#333" stroke-width="0.4"/>
<line x1="569.52" y1="440.30" x2="569.52" y2="441.80" stroke="#333" stroke-width="0.4"/>
<line x1="570.99" y1="440.30" x2="570.99" y2="441.80" stroke="#333" stroke-width="0.4"/>
<line x1="572.27" y1="440.30" x2="572.27" y2="441.80" stroke="#333" stroke-width="0.4"/>
<line x1="573.39" y1="440.30" x2="573.39" y2="441.80" stroke="#333" stroke-width="0.4"/>
<line x1="528.70" y1="440.30" x2="528.70" y2="441.80" stroke="#333" stroke-width="0.4"/>
<line x1="527.00" y1="440.30" x2="527.00" y2="441.80" stroke="#333" stroke-width="0.4"/>
<line x1="525.30" y1="440.30" x2="525.30" y2="441.80" stroke="#333" stroke-width="0.4"/>
<line x1="523.60" y1="440.30" x2="523.60" y2="441.80" stroke="#333" stroke-width="0.4"/>
<line x1="521.90" y1="440.30" x2="521.90" y2="441.80" stroke="#333" stroke-width="0.4"/>
<line x1="520.20" y1="440.30" x2="520.20" y2="441.80" stroke="#333" stroke-width="0.4"/>
<line x1="518.50" y1="440.30" x2="518.50" y2="441.80" stroke="#333" stroke-width="0.4"/>
<line x1="516.80" y1="440.30" x2="516.80" y2="441.80" stroke="#333" stroke-width="0.4"/>
<line x1="536.30" y1="440.30" x2="536.30" y2="441.80" stroke="#333" stroke-width="0.4"/>
<line x1="538.20" y1="440.30" x2="538.20" y2="441.80" stroke="#333" stroke-width="0.4"/>
<line x1="540.10" y1="440.30" x2="540.10" y2="441.80" stroke="#333" stroke-width="0.4"/>
<line x1="542.00" y1="440.30" x2="542.00" y2="441.80" stroke="#333" stroke-width="0.4"/>
<line x1="545.20" y1="454.20" x2="578.00" y2="454.20" stroke="#111" stroke-width="0.85"/>
<path d="M581.00 454.20 L576.00 452.00 L576.00 456.40 Z" fill="#111"/>
<text x="561.60" y="465.40" font-size="6.1" font-weight="bold" font-style="normal" text-anchor="middle" fill="#111" stroke="#111" stroke-width="0.26">eGFP</text>
</svg>
</body></html>
